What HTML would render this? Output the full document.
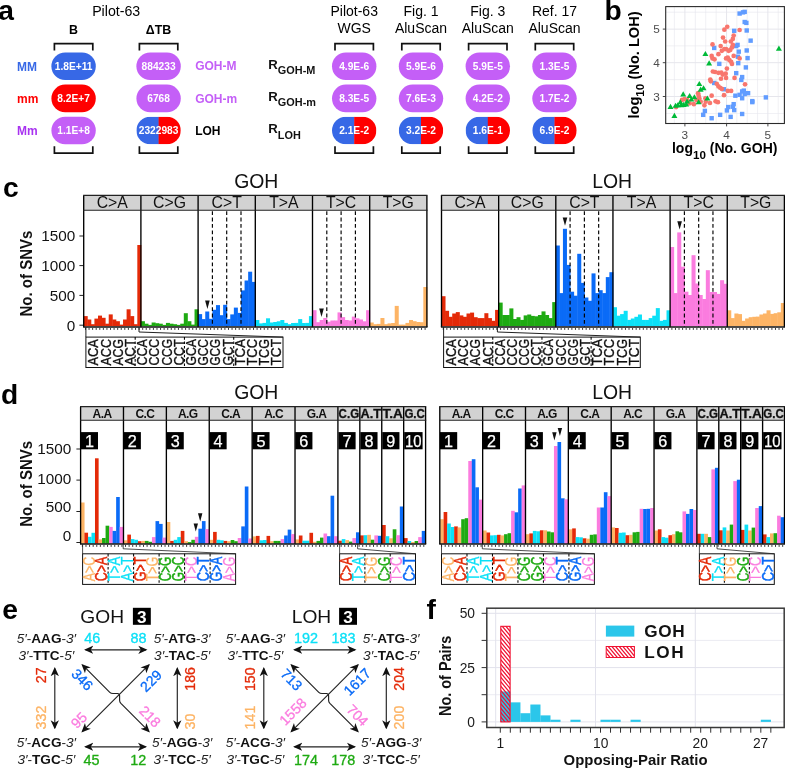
<!DOCTYPE html>
<html><head><meta charset="utf-8"><title>Figure</title>
<style>
html,body{margin:0;padding:0;background:#fff;}
body{width:785px;height:768px;overflow:hidden;}
svg{display:block;font-family:'Liberation Sans', sans-serif;}
</style></head><body>
<svg width="785" height="768" viewBox="0 0 785 768">
<rect width="785" height="768" fill="#fff"/>
<defs>
<marker id="ah" viewBox="0 0 10 10" refX="8.4" refY="5" markerWidth="9.4" markerHeight="9.4" markerUnits="userSpaceOnUse" orient="auto-start-reverse"><path d="M0.2,0.6 L10,5 L0.2,9.4 L2.9,5Z" fill="#111"/></marker>
<pattern id="hatch" width="2.3" height="2.3" patternUnits="userSpaceOnUse" patternTransform="rotate(42)"><rect width="2.3" height="1.05" fill="#EE1133"/></pattern>
</defs>
<text x="-1.80" y="19.70" font-size="28.2" font-weight="bold" fill="#000" text-anchor="start" >a</text>
<text x="116.20" y="16.40" font-size="14.2" font-weight="normal" fill="#000" text-anchor="middle" >Pilot-63</text>
<text x="73.60" y="34.40" font-size="12.4" font-weight="bold" fill="#000" text-anchor="middle" >B</text>
<text x="158.50" y="34.40" font-size="12.4" font-weight="bold" fill="#000" text-anchor="middle" >ΔTB</text>
<text x="17.00" y="70.80" font-size="12.0" font-weight="bold" fill="#3768E6" text-anchor="start" >MM</text>
<text x="17.00" y="102.90" font-size="12.0" font-weight="bold" fill="#FF0000" text-anchor="start" >mm</text>
<text x="17.00" y="135.00" font-size="12.0" font-weight="bold" fill="#A833F0" text-anchor="start" >Mm</text>
<path d="M54.40,50.6 V43.6 H92.80 V50.6" fill="none" stroke="#111" stroke-width="1.7"/>
<path d="M54.40,146.2 V153.2 H92.80 V146.2" fill="none" stroke="#111" stroke-width="1.7"/>
<path d="M139.40,50.6 V43.6 H177.80 V50.6" fill="none" stroke="#111" stroke-width="1.7"/>
<path d="M139.40,146.2 V153.2 H177.80 V146.2" fill="none" stroke="#111" stroke-width="1.7"/>
<rect x="51.40" y="52.50" width="44.4" height="27.6" rx="13.8" fill="#3768E6"/>
<text x="73.60" y="69.90" font-size="10.2" font-weight="bold" fill="#fff" text-anchor="middle" >1.8E+11</text>
<rect x="51.40" y="84.60" width="44.4" height="27.6" rx="13.8" fill="#FF0000"/>
<text x="73.60" y="102.00" font-size="10.2" font-weight="bold" fill="#fff" text-anchor="middle" >8.2E+7</text>
<rect x="51.40" y="116.70" width="44.4" height="27.6" rx="13.8" fill="#C45FF7"/>
<text x="73.60" y="134.10" font-size="10.2" font-weight="bold" fill="#fff" text-anchor="middle" >1.1E+8</text>
<rect x="136.40" y="52.50" width="44.4" height="27.6" rx="13.8" fill="#C45FF7"/>
<text x="158.60" y="69.90" font-size="10.2" font-weight="bold" fill="#fff" text-anchor="middle" >884233</text>
<rect x="136.40" y="84.60" width="44.4" height="27.6" rx="13.8" fill="#C45FF7"/>
<text x="158.60" y="102.00" font-size="10.2" font-weight="bold" fill="#fff" text-anchor="middle" >6768</text>
<clipPath id="cp158_130"><rect x="136.40" y="116.70" width="44.4" height="27.6" rx="13.8"/></clipPath>
<g clip-path="url(#cp158_130)"><rect x="136.40" y="116.70" width="22.50" height="27.6" fill="#3768E6"/><rect x="158.60" y="116.70" width="22.20" height="27.6" fill="#FF0000"/></g>
<text x="158.60" y="134.10" font-size="10.2" font-weight="bold" fill="#fff" text-anchor="middle" >2322983</text>
<text x="195.20" y="70.40" font-size="12.0" font-weight="bold" fill="#C45FF7" text-anchor="start" >GOH-M</text>
<text x="195.20" y="102.50" font-size="12.0" font-weight="bold" fill="#C45FF7" text-anchor="start" >GOH-m</text>
<text x="195.20" y="134.60" font-size="12.0" font-weight="bold" fill="#000" text-anchor="start" >LOH</text>
<text x="268.3" y="68.50" font-size="13.2" font-weight="bold" fill="#111">R<tspan font-size="10.9" dy="5.8">GOH-M</tspan></text>
<text x="268.3" y="100.60" font-size="13.2" font-weight="bold" fill="#111">R<tspan font-size="10.9" dy="5.8">GOH-m</tspan></text>
<text x="268.3" y="132.70" font-size="13.2" font-weight="bold" fill="#111">R<tspan font-size="10.9" dy="5.8">LOH</tspan></text>
<text x="354.20" y="16.00" font-size="14.0" font-weight="normal" fill="#000" text-anchor="middle" >Pilot-63</text>
<text x="354.20" y="33.20" font-size="14.0" font-weight="normal" fill="#000" text-anchor="middle" >WGS</text>
<path d="M335.00,50.6 V43.6 H373.40 V50.6" fill="none" stroke="#111" stroke-width="1.7"/>
<path d="M335.00,146.2 V153.2 H373.40 V146.2" fill="none" stroke="#111" stroke-width="1.7"/>
<rect x="332.00" y="52.50" width="44.4" height="27.6" rx="13.8" fill="#C45FF7"/>
<text x="354.20" y="69.90" font-size="10.2" font-weight="bold" fill="#fff" text-anchor="middle" >4.9E-6</text>
<rect x="332.00" y="84.60" width="44.4" height="27.6" rx="13.8" fill="#C45FF7"/>
<text x="354.20" y="102.00" font-size="10.2" font-weight="bold" fill="#fff" text-anchor="middle" >8.3E-5</text>
<clipPath id="cp354_130"><rect x="332.00" y="116.70" width="44.4" height="27.6" rx="13.8"/></clipPath>
<g clip-path="url(#cp354_130)"><rect x="332.00" y="116.70" width="22.50" height="27.6" fill="#3768E6"/><rect x="354.20" y="116.70" width="22.20" height="27.6" fill="#FF0000"/></g>
<text x="354.20" y="134.10" font-size="10.2" font-weight="bold" fill="#fff" text-anchor="middle" >2.1E-2</text>
<text x="421.00" y="16.00" font-size="14.0" font-weight="normal" fill="#000" text-anchor="middle" >Fig. 1</text>
<text x="421.00" y="33.20" font-size="14.0" font-weight="normal" fill="#000" text-anchor="middle" >AluScan</text>
<path d="M401.80,50.6 V43.6 H440.20 V50.6" fill="none" stroke="#111" stroke-width="1.7"/>
<path d="M401.80,146.2 V153.2 H440.20 V146.2" fill="none" stroke="#111" stroke-width="1.7"/>
<rect x="398.80" y="52.50" width="44.4" height="27.6" rx="13.8" fill="#C45FF7"/>
<text x="421.00" y="69.90" font-size="10.2" font-weight="bold" fill="#fff" text-anchor="middle" >5.9E-6</text>
<rect x="398.80" y="84.60" width="44.4" height="27.6" rx="13.8" fill="#C45FF7"/>
<text x="421.00" y="102.00" font-size="10.2" font-weight="bold" fill="#fff" text-anchor="middle" >7.6E-3</text>
<clipPath id="cp421_130"><rect x="398.80" y="116.70" width="44.4" height="27.6" rx="13.8"/></clipPath>
<g clip-path="url(#cp421_130)"><rect x="398.80" y="116.70" width="22.50" height="27.6" fill="#3768E6"/><rect x="421.00" y="116.70" width="22.20" height="27.6" fill="#FF0000"/></g>
<text x="421.00" y="134.10" font-size="10.2" font-weight="bold" fill="#fff" text-anchor="middle" >3.2E-2</text>
<text x="487.80" y="16.00" font-size="14.0" font-weight="normal" fill="#000" text-anchor="middle" >Fig. 3</text>
<text x="487.80" y="33.20" font-size="14.0" font-weight="normal" fill="#000" text-anchor="middle" >AluScan</text>
<path d="M468.60,50.6 V43.6 H507.00 V50.6" fill="none" stroke="#111" stroke-width="1.7"/>
<path d="M468.60,146.2 V153.2 H507.00 V146.2" fill="none" stroke="#111" stroke-width="1.7"/>
<rect x="465.60" y="52.50" width="44.4" height="27.6" rx="13.8" fill="#C45FF7"/>
<text x="487.80" y="69.90" font-size="10.2" font-weight="bold" fill="#fff" text-anchor="middle" >5.9E-5</text>
<rect x="465.60" y="84.60" width="44.4" height="27.6" rx="13.8" fill="#C45FF7"/>
<text x="487.80" y="102.00" font-size="10.2" font-weight="bold" fill="#fff" text-anchor="middle" >4.2E-2</text>
<clipPath id="cp487_130"><rect x="465.60" y="116.70" width="44.4" height="27.6" rx="13.8"/></clipPath>
<g clip-path="url(#cp487_130)"><rect x="465.60" y="116.70" width="22.50" height="27.6" fill="#3768E6"/><rect x="487.80" y="116.70" width="22.20" height="27.6" fill="#FF0000"/></g>
<text x="487.80" y="134.10" font-size="10.2" font-weight="bold" fill="#fff" text-anchor="middle" >1.6E-1</text>
<text x="554.50" y="16.00" font-size="14.0" font-weight="normal" fill="#000" text-anchor="middle" >Ref. 17</text>
<text x="554.50" y="33.20" font-size="14.0" font-weight="normal" fill="#000" text-anchor="middle" >AluScan</text>
<path d="M535.30,50.6 V43.6 H573.70 V50.6" fill="none" stroke="#111" stroke-width="1.7"/>
<path d="M535.30,146.2 V153.2 H573.70 V146.2" fill="none" stroke="#111" stroke-width="1.7"/>
<rect x="532.30" y="52.50" width="44.4" height="27.6" rx="13.8" fill="#C45FF7"/>
<text x="554.50" y="69.90" font-size="10.2" font-weight="bold" fill="#fff" text-anchor="middle" >1.3E-5</text>
<rect x="532.30" y="84.60" width="44.4" height="27.6" rx="13.8" fill="#C45FF7"/>
<text x="554.50" y="102.00" font-size="10.2" font-weight="bold" fill="#fff" text-anchor="middle" >1.7E-2</text>
<clipPath id="cp554_130"><rect x="532.30" y="116.70" width="44.4" height="27.6" rx="13.8"/></clipPath>
<g clip-path="url(#cp554_130)"><rect x="532.30" y="116.70" width="22.50" height="27.6" fill="#3768E6"/><rect x="554.50" y="116.70" width="22.20" height="27.6" fill="#FF0000"/></g>
<text x="554.50" y="134.10" font-size="10.2" font-weight="bold" fill="#fff" text-anchor="middle" >6.9E-2</text>
<text x="604.40" y="20.00" font-size="28.2" font-weight="bold" fill="#000" text-anchor="start" >b</text>
<rect x="665.7" y="6.6" width="118.70" height="116.90" fill="#fff"/>
<line x1="674.40" x2="674.40" y1="6.6" y2="123.5" stroke="#e6e6ec" stroke-width="0.6"/>
<line x1="684.90" x2="684.90" y1="6.6" y2="123.5" stroke="#e6e6ec" stroke-width="1.0"/>
<line x1="695.32" x2="695.32" y1="6.6" y2="123.5" stroke="#e6e6ec" stroke-width="0.6"/>
<line x1="705.73" x2="705.73" y1="6.6" y2="123.5" stroke="#e6e6ec" stroke-width="0.6"/>
<line x1="716.15" x2="716.15" y1="6.6" y2="123.5" stroke="#e6e6ec" stroke-width="0.6"/>
<line x1="726.57" x2="726.57" y1="6.6" y2="123.5" stroke="#e6e6ec" stroke-width="1.0"/>
<line x1="736.90" x2="736.90" y1="6.6" y2="123.5" stroke="#e6e6ec" stroke-width="0.6"/>
<line x1="747.23" x2="747.23" y1="6.6" y2="123.5" stroke="#e6e6ec" stroke-width="0.6"/>
<line x1="757.56" x2="757.56" y1="6.6" y2="123.5" stroke="#e6e6ec" stroke-width="0.6"/>
<line x1="767.89" x2="767.89" y1="6.6" y2="123.5" stroke="#e6e6ec" stroke-width="1.0"/>
<line x1="778.22" x2="778.22" y1="6.6" y2="123.5" stroke="#e6e6ec" stroke-width="0.6"/>
<line y1="12.20" y2="12.20" x1="665.7" x2="784.4" stroke="#e6e6ec" stroke-width="0.6"/>
<line y1="29.13" y2="29.13" x1="665.7" x2="784.4" stroke="#e6e6ec" stroke-width="1.0"/>
<line y1="45.90" y2="45.90" x1="665.7" x2="784.4" stroke="#e6e6ec" stroke-width="0.6"/>
<line y1="62.67" y2="62.67" x1="665.7" x2="784.4" stroke="#e6e6ec" stroke-width="1.0"/>
<line y1="79.61" y2="79.61" x1="665.7" x2="784.4" stroke="#e6e6ec" stroke-width="0.6"/>
<line y1="96.54" y2="96.54" x1="665.7" x2="784.4" stroke="#e6e6ec" stroke-width="1.0"/>
<line y1="113.48" y2="113.48" x1="665.7" x2="784.4" stroke="#e6e6ec" stroke-width="0.6"/>
<rect x="737.41" y="11.35" width="4.4" height="4.4" fill="#619CFF"/>
<rect x="740.79" y="10.16" width="4.4" height="4.4" fill="#619CFF"/>
<rect x="742.49" y="9.66" width="4.4" height="4.4" fill="#619CFF"/>
<rect x="742.49" y="19.82" width="4.4" height="4.4" fill="#619CFF"/>
<rect x="744.18" y="20.67" width="4.4" height="4.4" fill="#619CFF"/>
<rect x="731.99" y="28.63" width="4.4" height="4.4" fill="#619CFF"/>
<rect x="744.52" y="28.29" width="4.4" height="4.4" fill="#619CFF"/>
<rect x="748.42" y="38.45" width="4.4" height="4.4" fill="#619CFF"/>
<rect x="712.00" y="45.73" width="4.4" height="4.4" fill="#619CFF"/>
<rect x="734.02" y="43.87" width="4.4" height="4.4" fill="#619CFF"/>
<rect x="735.37" y="42.68" width="4.4" height="4.4" fill="#619CFF"/>
<rect x="736.56" y="49.46" width="4.4" height="4.4" fill="#619CFF"/>
<rect x="744.52" y="48.27" width="4.4" height="4.4" fill="#619CFF"/>
<rect x="735.71" y="54.54" width="4.4" height="4.4" fill="#619CFF"/>
<rect x="745.37" y="55.90" width="4.4" height="4.4" fill="#619CFF"/>
<rect x="717.08" y="61.66" width="4.4" height="4.4" fill="#619CFF"/>
<rect x="736.05" y="60.98" width="4.4" height="4.4" fill="#619CFF"/>
<rect x="743.67" y="65.21" width="4.4" height="4.4" fill="#619CFF"/>
<rect x="734.02" y="70.97" width="4.4" height="4.4" fill="#619CFF"/>
<rect x="739.95" y="74.87" width="4.4" height="4.4" fill="#619CFF"/>
<rect x="739.10" y="77.75" width="4.4" height="4.4" fill="#619CFF"/>
<rect x="712.00" y="80.79" width="4.4" height="4.4" fill="#619CFF"/>
<rect x="721.66" y="87.06" width="4.4" height="4.4" fill="#619CFF"/>
<rect x="733.17" y="93.50" width="4.4" height="4.4" fill="#619CFF"/>
<rect x="737.41" y="92.65" width="4.4" height="4.4" fill="#619CFF"/>
<rect x="739.95" y="89.26" width="4.4" height="4.4" fill="#619CFF"/>
<rect x="741.64" y="88.42" width="4.4" height="4.4" fill="#619CFF"/>
<rect x="742.49" y="91.80" width="4.4" height="4.4" fill="#619CFF"/>
<rect x="739.95" y="96.04" width="4.4" height="4.4" fill="#619CFF"/>
<rect x="745.88" y="90.96" width="4.4" height="4.4" fill="#619CFF"/>
<rect x="750.11" y="98.92" width="4.4" height="4.4" fill="#619CFF"/>
<rect x="750.11" y="99.93" width="4.4" height="4.4" fill="#619CFF"/>
<rect x="763.66" y="95.19" width="4.4" height="4.4" fill="#619CFF"/>
<rect x="702.68" y="108.74" width="4.4" height="4.4" fill="#619CFF"/>
<rect x="700.99" y="112.64" width="4.4" height="4.4" fill="#619CFF"/>
<rect x="709.46" y="116.02" width="4.4" height="4.4" fill="#619CFF"/>
<rect x="717.93" y="112.64" width="4.4" height="4.4" fill="#619CFF"/>
<rect x="724.70" y="108.23" width="4.4" height="4.4" fill="#619CFF"/>
<rect x="726.06" y="104.85" width="4.4" height="4.4" fill="#619CFF"/>
<rect x="728.43" y="114.67" width="4.4" height="4.4" fill="#619CFF"/>
<rect x="730.63" y="104.51" width="4.4" height="4.4" fill="#619CFF"/>
<rect x="731.48" y="101.97" width="4.4" height="4.4" fill="#619CFF"/>
<rect x="731.99" y="107.89" width="4.4" height="4.4" fill="#619CFF"/>
<rect x="739.95" y="111.79" width="4.4" height="4.4" fill="#619CFF"/>
<circle cx="676.09" cy="107.05" r="2.35" fill="#F8766D"/>
<circle cx="682.02" cy="99.93" r="2.35" fill="#F8766D"/>
<circle cx="684.56" cy="99.09" r="2.35" fill="#F8766D"/>
<circle cx="687.10" cy="99.93" r="2.35" fill="#F8766D"/>
<circle cx="689.64" cy="103.32" r="2.35" fill="#F8766D"/>
<circle cx="693.88" cy="104.17" r="2.35" fill="#F8766D"/>
<circle cx="696.42" cy="99.93" r="2.35" fill="#F8766D"/>
<circle cx="698.11" cy="93.16" r="2.35" fill="#F8766D"/>
<circle cx="698.62" cy="95.70" r="2.35" fill="#F8766D"/>
<circle cx="699.30" cy="98.24" r="2.35" fill="#F8766D"/>
<circle cx="700.65" cy="101.63" r="2.35" fill="#F8766D"/>
<circle cx="704.38" cy="105.35" r="2.35" fill="#F8766D"/>
<circle cx="705.39" cy="98.24" r="2.35" fill="#F8766D"/>
<circle cx="705.73" cy="101.63" r="2.35" fill="#F8766D"/>
<circle cx="709.97" cy="102.98" r="2.35" fill="#F8766D"/>
<circle cx="711.66" cy="95.70" r="2.35" fill="#F8766D"/>
<circle cx="715.56" cy="101.29" r="2.35" fill="#F8766D"/>
<circle cx="717.93" cy="102.13" r="2.35" fill="#F8766D"/>
<circle cx="724.02" cy="95.19" r="2.35" fill="#F8766D"/>
<circle cx="710.30" cy="79.61" r="2.35" fill="#F8766D"/>
<circle cx="710.81" cy="81.30" r="2.35" fill="#F8766D"/>
<circle cx="716.74" cy="83.84" r="2.35" fill="#F8766D"/>
<circle cx="718.43" cy="86.38" r="2.35" fill="#F8766D"/>
<circle cx="720.13" cy="87.74" r="2.35" fill="#F8766D"/>
<circle cx="721.82" cy="88.92" r="2.35" fill="#F8766D"/>
<circle cx="727.75" cy="90.96" r="2.35" fill="#F8766D"/>
<circle cx="731.14" cy="90.96" r="2.35" fill="#F8766D"/>
<circle cx="712.85" cy="71.48" r="2.35" fill="#F8766D"/>
<circle cx="715.05" cy="71.99" r="2.35" fill="#F8766D"/>
<circle cx="718.43" cy="72.83" r="2.35" fill="#F8766D"/>
<circle cx="721.31" cy="72.49" r="2.35" fill="#F8766D"/>
<circle cx="722.67" cy="74.53" r="2.35" fill="#F8766D"/>
<circle cx="725.72" cy="73.68" r="2.35" fill="#F8766D"/>
<circle cx="726.90" cy="68.60" r="2.35" fill="#F8766D"/>
<circle cx="720.98" cy="78.76" r="2.35" fill="#F8766D"/>
<circle cx="726.06" cy="77.91" r="2.35" fill="#F8766D"/>
<circle cx="734.53" cy="77.91" r="2.35" fill="#F8766D"/>
<circle cx="745.03" cy="84.35" r="2.35" fill="#F8766D"/>
<circle cx="712.51" cy="44.38" r="2.35" fill="#F8766D"/>
<circle cx="711.66" cy="55.89" r="2.35" fill="#F8766D"/>
<circle cx="712.51" cy="58.43" r="2.35" fill="#F8766D"/>
<circle cx="714.54" cy="59.28" r="2.35" fill="#F8766D"/>
<circle cx="718.43" cy="54.20" r="2.35" fill="#F8766D"/>
<circle cx="720.64" cy="46.07" r="2.35" fill="#F8766D"/>
<circle cx="721.82" cy="50.81" r="2.35" fill="#F8766D"/>
<circle cx="724.36" cy="49.12" r="2.35" fill="#F8766D"/>
<circle cx="726.06" cy="49.12" r="2.35" fill="#F8766D"/>
<circle cx="728.60" cy="50.81" r="2.35" fill="#F8766D"/>
<circle cx="730.29" cy="49.97" r="2.35" fill="#F8766D"/>
<circle cx="731.99" cy="47.43" r="2.35" fill="#F8766D"/>
<circle cx="732.83" cy="44.88" r="2.35" fill="#F8766D"/>
<circle cx="726.06" cy="58.43" r="2.35" fill="#F8766D"/>
<circle cx="727.75" cy="57.59" r="2.35" fill="#F8766D"/>
<circle cx="729.44" cy="60.13" r="2.35" fill="#F8766D"/>
<circle cx="731.14" cy="61.82" r="2.35" fill="#F8766D"/>
<circle cx="731.99" cy="64.02" r="2.35" fill="#F8766D"/>
<circle cx="733.68" cy="55.89" r="2.35" fill="#F8766D"/>
<circle cx="739.61" cy="58.43" r="2.35" fill="#F8766D"/>
<circle cx="723.01" cy="37.60" r="2.35" fill="#F8766D"/>
<circle cx="725.21" cy="41.50" r="2.35" fill="#F8766D"/>
<circle cx="730.80" cy="41.50" r="2.35" fill="#F8766D"/>
<circle cx="732.83" cy="38.96" r="2.35" fill="#F8766D"/>
<circle cx="733.68" cy="35.57" r="2.35" fill="#F8766D"/>
<circle cx="724.36" cy="29.64" r="2.35" fill="#F8766D"/>
<circle cx="727.24" cy="26.76" r="2.35" fill="#F8766D"/>
<circle cx="739.61" cy="29.98" r="2.35" fill="#F8766D"/>
<path d="M670.50,103.85 L673.50,108.95 L667.50,108.95Z" fill="#00BA38"/>
<path d="M674.40,112.82 L677.40,117.92 L671.40,117.92Z" fill="#00BA38"/>
<path d="M675.58,102.66 L678.58,107.76 L672.58,107.76Z" fill="#00BA38"/>
<path d="M677.78,102.15 L680.78,107.25 L674.78,107.25Z" fill="#00BA38"/>
<path d="M680.33,99.27 L683.33,104.37 L677.33,104.37Z" fill="#00BA38"/>
<path d="M681.17,102.15 L684.17,107.25 L678.17,107.25Z" fill="#00BA38"/>
<path d="M683.20,91.31 L686.20,96.41 L680.20,96.41Z" fill="#00BA38"/>
<path d="M683.71,101.81 L686.71,106.91 L680.71,106.91Z" fill="#00BA38"/>
<path d="M686.25,101.47 L689.25,106.57 L683.25,106.57Z" fill="#00BA38"/>
<path d="M687.10,98.43 L690.10,103.53 L684.10,103.53Z" fill="#00BA38"/>
<path d="M689.64,93.01 L692.64,98.11 L686.64,98.11Z" fill="#00BA38"/>
<path d="M691.33,96.39 L694.33,101.49 L688.33,101.49Z" fill="#00BA38"/>
<path d="M694.38,94.19 L697.38,99.29 L691.38,99.29Z" fill="#00BA38"/>
<path d="M698.62,99.27 L701.62,104.37 L695.62,104.37Z" fill="#00BA38"/>
<path d="M699.30,80.98 L702.30,86.08 L696.30,86.08Z" fill="#00BA38"/>
<path d="M700.65,86.57 L703.65,91.67 L697.65,91.67Z" fill="#00BA38"/>
<path d="M703.53,85.21 L706.53,90.31 L700.53,90.31Z" fill="#00BA38"/>
<path d="M705.39,51.00 L708.39,56.10 L702.39,56.10Z" fill="#00BA38"/>
<path d="M707.43,95.38 L710.43,100.48 L704.43,100.48Z" fill="#00BA38"/>
<path d="M709.12,60.32 L712.12,65.42 L706.12,65.42Z" fill="#00BA38"/>
<path d="M778.90,45.58 L781.90,50.68 L775.90,50.68Z" fill="#00BA38"/>
<rect x="665.7" y="6.6" width="118.70" height="116.90" fill="none" stroke="#2a2a2a" stroke-width="1.1"/>
<line x1="662.8" x2="665.7" y1="29.1" y2="29.1" stroke="#333" stroke-width="0.9"/>
<text x="659.80" y="33.30" font-size="11.8" font-weight="normal" fill="#4d4d4d" text-anchor="end" >5</text>
<line x1="662.8" x2="665.7" y1="62.7" y2="62.7" stroke="#333" stroke-width="0.9"/>
<text x="659.80" y="66.90" font-size="11.8" font-weight="normal" fill="#4d4d4d" text-anchor="end" >4</text>
<line x1="662.8" x2="665.7" y1="96.5" y2="96.5" stroke="#333" stroke-width="0.9"/>
<text x="659.80" y="100.70" font-size="11.8" font-weight="normal" fill="#4d4d4d" text-anchor="end" >3</text>
<line x1="684.9" x2="684.9" y1="123.5" y2="126.4" stroke="#333" stroke-width="0.9"/>
<text x="684.90" y="139.40" font-size="11.8" font-weight="normal" fill="#4d4d4d" text-anchor="middle" >3</text>
<line x1="726.6" x2="726.6" y1="123.5" y2="126.4" stroke="#333" stroke-width="0.9"/>
<text x="726.60" y="139.40" font-size="11.8" font-weight="normal" fill="#4d4d4d" text-anchor="middle" >4</text>
<line x1="767.9" x2="767.9" y1="123.5" y2="126.4" stroke="#333" stroke-width="0.9"/>
<text x="767.90" y="139.40" font-size="11.8" font-weight="normal" fill="#4d4d4d" text-anchor="middle" >5</text>
<text x="724.7" y="153.3" font-size="14" font-weight="bold" text-anchor="middle">log<tspan font-size="11.6" dy="5.2">10</tspan><tspan dy="-5.2"> (No. GOH)</tspan></text>
<text transform="translate(638.8,65.0) rotate(-90)" font-size="14.6" font-weight="bold" text-anchor="middle">log<tspan font-size="11.8" dy="5.2">10</tspan><tspan dy="-5.2"> (No. LOH)</tspan></text>
<text x="2.90" y="196.70" font-size="28.2" font-weight="bold" fill="#000" text-anchor="start" >c</text>
<text x="256.30" y="188.20" font-size="19.4" font-weight="normal" fill="#111" text-anchor="middle" >GOH</text>
<text x="612.20" y="188.20" font-size="19.4" font-weight="normal" fill="#111" text-anchor="middle" >LOH</text>
<line x1="79.4" x2="83.7" y1="236.0" y2="236.0" stroke="#222" stroke-width="1"/>
<text x="75.20" y="241.30" font-size="15.3" font-weight="normal" fill="#111" text-anchor="end" >1500</text>
<line x1="79.4" x2="83.7" y1="265.6" y2="265.6" stroke="#222" stroke-width="1"/>
<text x="75.20" y="270.90" font-size="15.3" font-weight="normal" fill="#111" text-anchor="end" >1000</text>
<line x1="79.4" x2="83.7" y1="295.4" y2="295.4" stroke="#222" stroke-width="1"/>
<text x="75.20" y="300.70" font-size="15.3" font-weight="normal" fill="#111" text-anchor="end" >500</text>
<line x1="79.4" x2="83.7" y1="325.2" y2="325.2" stroke="#222" stroke-width="1"/>
<text x="75.20" y="330.50" font-size="15.3" font-weight="normal" fill="#111" text-anchor="end" >0</text>
<text transform="translate(32.4,316.6) rotate(-90)" font-size="16.8" font-weight="bold" textLength="86" lengthAdjust="spacingAndGlyphs" fill="#111">No. of SNVs</text>
<rect x="83.70" y="195.4" width="343.20" height="14.80" fill="#d2d2d2"/>
<rect x="83.70" y="316.10" width="4.02" height="10.10" fill="#E42A08"/>
<rect x="87.28" y="319.50" width="4.02" height="6.70" fill="#E42A08"/>
<rect x="90.85" y="324.20" width="4.02" height="2.00" fill="#E42A08"/>
<rect x="94.42" y="318.60" width="4.02" height="7.60" fill="#E42A08"/>
<rect x="98.00" y="315.60" width="4.02" height="10.60" fill="#E42A08"/>
<rect x="101.58" y="317.80" width="4.02" height="8.40" fill="#E42A08"/>
<rect x="105.15" y="323.70" width="4.02" height="2.50" fill="#E42A08"/>
<rect x="108.72" y="314.40" width="4.02" height="11.80" fill="#E42A08"/>
<rect x="112.30" y="319.50" width="4.02" height="6.70" fill="#E42A08"/>
<rect x="115.88" y="321.20" width="4.02" height="5.00" fill="#E42A08"/>
<rect x="119.45" y="324.60" width="4.02" height="1.60" fill="#E42A08"/>
<rect x="123.03" y="319.50" width="4.02" height="6.70" fill="#E42A08"/>
<rect x="126.60" y="309.30" width="4.02" height="16.90" fill="#E42A08"/>
<rect x="130.18" y="316.10" width="4.02" height="10.10" fill="#E42A08"/>
<rect x="133.75" y="324.20" width="4.02" height="2.00" fill="#E42A08"/>
<rect x="137.32" y="245.00" width="4.02" height="81.20" fill="#E42A08"/>
<text x="112.30" y="208.20" font-size="15.8" font-weight="normal" fill="#111" text-anchor="middle" >C&gt;A</text>
<rect x="140.90" y="321.20" width="4.02" height="5.00" fill="#1EAA12"/>
<rect x="144.47" y="323.70" width="4.02" height="2.50" fill="#1EAA12"/>
<rect x="148.05" y="324.90" width="4.02" height="1.30" fill="#1EAA12"/>
<rect x="151.62" y="322.50" width="4.02" height="3.70" fill="#1EAA12"/>
<rect x="155.20" y="323.20" width="4.02" height="3.00" fill="#1EAA12"/>
<rect x="158.78" y="323.70" width="4.02" height="2.50" fill="#1EAA12"/>
<rect x="162.35" y="324.90" width="4.02" height="1.30" fill="#1EAA12"/>
<rect x="165.93" y="322.90" width="4.02" height="3.30" fill="#1EAA12"/>
<rect x="169.50" y="323.70" width="4.02" height="2.50" fill="#1EAA12"/>
<rect x="173.07" y="324.20" width="4.02" height="2.00" fill="#1EAA12"/>
<rect x="176.65" y="324.90" width="4.02" height="1.30" fill="#1EAA12"/>
<rect x="180.22" y="323.70" width="4.02" height="2.50" fill="#1EAA12"/>
<rect x="183.80" y="313.20" width="4.02" height="13.00" fill="#1EAA12"/>
<rect x="187.38" y="321.20" width="4.02" height="5.00" fill="#1EAA12"/>
<rect x="190.95" y="324.60" width="4.02" height="1.60" fill="#1EAA12"/>
<rect x="194.53" y="309.30" width="4.02" height="16.90" fill="#1EAA12"/>
<text x="169.50" y="208.20" font-size="15.8" font-weight="normal" fill="#111" text-anchor="middle" >C&gt;G</text>
<rect x="198.10" y="314.10" width="4.02" height="12.10" fill="#0A6BF7"/>
<rect x="201.67" y="319.10" width="4.02" height="7.10" fill="#0A6BF7"/>
<rect x="205.25" y="311.50" width="4.02" height="14.70" fill="#0A6BF7"/>
<rect x="208.82" y="318.80" width="4.02" height="7.40" fill="#0A6BF7"/>
<rect x="212.40" y="309.80" width="4.02" height="16.40" fill="#0A6BF7"/>
<rect x="215.97" y="305.10" width="4.02" height="21.10" fill="#0A6BF7"/>
<rect x="219.55" y="315.20" width="4.02" height="11.00" fill="#0A6BF7"/>
<rect x="223.12" y="304.80" width="4.02" height="21.40" fill="#0A6BF7"/>
<rect x="226.70" y="319.10" width="4.02" height="7.10" fill="#0A6BF7"/>
<rect x="230.27" y="314.40" width="4.02" height="11.80" fill="#0A6BF7"/>
<rect x="233.85" y="307.60" width="4.02" height="18.60" fill="#0A6BF7"/>
<rect x="237.42" y="312.90" width="4.02" height="13.30" fill="#0A6BF7"/>
<rect x="241.00" y="290.40" width="4.02" height="35.80" fill="#0A6BF7"/>
<rect x="244.57" y="280.50" width="4.02" height="45.70" fill="#0A6BF7"/>
<rect x="248.15" y="271.70" width="4.02" height="54.50" fill="#0A6BF7"/>
<rect x="251.72" y="281.90" width="4.02" height="44.30" fill="#0A6BF7"/>
<line x1="212.40" x2="212.40" y1="211.20" y2="327.0" stroke="#000" stroke-width="1.15" stroke-dasharray="3.8,2.6"/>
<line x1="226.70" x2="226.70" y1="211.20" y2="327.0" stroke="#000" stroke-width="1.15" stroke-dasharray="3.8,2.6"/>
<line x1="241.00" x2="241.00" y1="211.20" y2="327.0" stroke="#000" stroke-width="1.15" stroke-dasharray="3.8,2.6"/>
<text x="226.70" y="208.20" font-size="15.8" font-weight="normal" fill="#111" text-anchor="middle" >C&gt;T</text>
<rect x="255.30" y="320.00" width="4.02" height="6.20" fill="#0CE0F7"/>
<rect x="258.88" y="323.40" width="4.02" height="2.80" fill="#0CE0F7"/>
<rect x="262.45" y="322.90" width="4.02" height="3.30" fill="#0CE0F7"/>
<rect x="266.03" y="318.30" width="4.02" height="7.90" fill="#0CE0F7"/>
<rect x="269.60" y="322.50" width="4.02" height="3.70" fill="#0CE0F7"/>
<rect x="273.18" y="322.00" width="4.02" height="4.20" fill="#0CE0F7"/>
<rect x="276.75" y="321.30" width="4.02" height="4.90" fill="#0CE0F7"/>
<rect x="280.32" y="320.00" width="4.02" height="6.20" fill="#0CE0F7"/>
<rect x="283.90" y="322.90" width="4.02" height="3.30" fill="#0CE0F7"/>
<rect x="287.48" y="324.20" width="4.02" height="2.00" fill="#0CE0F7"/>
<rect x="291.05" y="323.00" width="4.02" height="3.20" fill="#0CE0F7"/>
<rect x="294.62" y="322.90" width="4.02" height="3.30" fill="#0CE0F7"/>
<rect x="298.20" y="319.10" width="4.02" height="7.10" fill="#0CE0F7"/>
<rect x="301.77" y="323.00" width="4.02" height="3.20" fill="#0CE0F7"/>
<rect x="305.35" y="322.90" width="4.02" height="3.30" fill="#0CE0F7"/>
<rect x="308.93" y="316.10" width="4.02" height="10.10" fill="#0CE0F7"/>
<text x="283.90" y="208.20" font-size="15.8" font-weight="normal" fill="#111" text-anchor="middle" >T&gt;A</text>
<rect x="312.50" y="310.20" width="4.02" height="16.00" fill="#FB7CDF"/>
<rect x="316.07" y="322.20" width="4.02" height="4.00" fill="#FB7CDF"/>
<rect x="319.65" y="320.00" width="4.02" height="6.20" fill="#FB7CDF"/>
<rect x="323.23" y="318.00" width="4.02" height="8.20" fill="#FB7CDF"/>
<rect x="326.80" y="321.70" width="4.02" height="4.50" fill="#FB7CDF"/>
<rect x="330.38" y="320.50" width="4.02" height="5.70" fill="#FB7CDF"/>
<rect x="333.95" y="320.50" width="4.02" height="5.70" fill="#FB7CDF"/>
<rect x="337.52" y="312.40" width="4.02" height="13.80" fill="#FB7CDF"/>
<rect x="341.10" y="317.10" width="4.02" height="9.10" fill="#FB7CDF"/>
<rect x="344.68" y="320.00" width="4.02" height="6.20" fill="#FB7CDF"/>
<rect x="348.25" y="320.50" width="4.02" height="5.70" fill="#FB7CDF"/>
<rect x="351.82" y="316.60" width="4.02" height="9.60" fill="#FB7CDF"/>
<rect x="355.40" y="318.30" width="4.02" height="7.90" fill="#FB7CDF"/>
<rect x="358.98" y="319.50" width="4.02" height="6.70" fill="#FB7CDF"/>
<rect x="362.55" y="321.30" width="4.02" height="4.90" fill="#FB7CDF"/>
<rect x="366.12" y="310.20" width="4.02" height="16.00" fill="#FB7CDF"/>
<line x1="326.80" x2="326.80" y1="211.20" y2="327.0" stroke="#000" stroke-width="1.15" stroke-dasharray="3.8,2.6"/>
<line x1="341.10" x2="341.10" y1="211.20" y2="327.0" stroke="#000" stroke-width="1.15" stroke-dasharray="3.8,2.6"/>
<line x1="355.40" x2="355.40" y1="211.20" y2="327.0" stroke="#000" stroke-width="1.15" stroke-dasharray="3.8,2.6"/>
<text x="341.10" y="208.20" font-size="15.8" font-weight="normal" fill="#111" text-anchor="middle" >T&gt;C</text>
<rect x="369.70" y="322.50" width="4.02" height="3.70" fill="#FDB465"/>
<rect x="373.27" y="324.20" width="4.02" height="2.00" fill="#FDB465"/>
<rect x="376.85" y="323.90" width="4.02" height="2.30" fill="#FDB465"/>
<rect x="380.43" y="318.00" width="4.02" height="8.20" fill="#FDB465"/>
<rect x="384.00" y="324.20" width="4.02" height="2.00" fill="#FDB465"/>
<rect x="387.57" y="323.40" width="4.02" height="2.80" fill="#FDB465"/>
<rect x="391.15" y="323.00" width="4.02" height="3.20" fill="#FDB465"/>
<rect x="394.72" y="305.90" width="4.02" height="20.30" fill="#FDB465"/>
<rect x="398.30" y="324.60" width="4.02" height="1.60" fill="#FDB465"/>
<rect x="401.88" y="324.60" width="4.02" height="1.60" fill="#FDB465"/>
<rect x="405.45" y="322.90" width="4.02" height="3.30" fill="#FDB465"/>
<rect x="409.02" y="320.00" width="4.02" height="6.20" fill="#FDB465"/>
<rect x="412.60" y="321.20" width="4.02" height="5.00" fill="#FDB465"/>
<rect x="416.17" y="322.00" width="4.02" height="4.20" fill="#FDB465"/>
<rect x="419.75" y="322.20" width="4.02" height="4.00" fill="#FDB465"/>
<rect x="423.32" y="287.00" width="4.02" height="39.20" fill="#FDB465"/>
<text x="398.30" y="208.20" font-size="15.8" font-weight="normal" fill="#111" text-anchor="middle" >T&gt;G</text>
<line x1="83.70" x2="83.70" y1="195.4" y2="327.0" stroke="#000" stroke-width="1.35"/>
<line x1="140.90" x2="140.90" y1="195.4" y2="327.0" stroke="#000" stroke-width="1.35"/>
<line x1="198.10" x2="198.10" y1="195.4" y2="327.0" stroke="#000" stroke-width="1.35"/>
<line x1="255.30" x2="255.30" y1="195.4" y2="327.0" stroke="#000" stroke-width="1.35"/>
<line x1="312.50" x2="312.50" y1="195.4" y2="327.0" stroke="#000" stroke-width="1.35"/>
<line x1="369.70" x2="369.70" y1="195.4" y2="327.0" stroke="#000" stroke-width="1.35"/>
<line x1="426.90" x2="426.90" y1="195.4" y2="327.0" stroke="#000" stroke-width="1.35"/>
<line x1="83.10" x2="427.50" y1="195.4" y2="195.4" stroke="#222" stroke-width="1.1"/>
<line x1="83.10" x2="427.50" y1="210.2" y2="210.2" stroke="#222" stroke-width="1.1"/>
<line x1="83.10" x2="427.50" y1="327.0" y2="327.0" stroke="#111" stroke-width="1.3"/>
<path d="M85.49,328.0 v1.9 M89.06,328.0 v1.9 M92.64,328.0 v1.9 M96.21,328.0 v1.9 M99.79,328.0 v1.9 M103.36,328.0 v1.9 M106.94,328.0 v1.9 M110.51,328.0 v1.9 M114.09,328.0 v1.9 M117.66,328.0 v1.9 M121.24,328.0 v1.9 M124.81,328.0 v1.9 M128.39,328.0 v1.9 M131.96,328.0 v1.9 M135.54,328.0 v1.9 M139.11,328.0 v1.9 M142.69,328.0 v1.9 M146.26,328.0 v1.9 M149.84,328.0 v1.9 M153.41,328.0 v1.9 M156.99,328.0 v1.9 M160.56,328.0 v1.9 M164.14,328.0 v1.9 M167.71,328.0 v1.9 M171.29,328.0 v1.9 M174.86,328.0 v1.9 M178.44,328.0 v1.9 M182.01,328.0 v1.9 M185.59,328.0 v1.9 M189.16,328.0 v1.9 M192.74,328.0 v1.9 M196.31,328.0 v1.9 M199.89,328.0 v1.9 M203.46,328.0 v1.9 M207.04,328.0 v1.9 M210.61,328.0 v1.9 M214.19,328.0 v1.9 M217.76,328.0 v1.9 M221.34,328.0 v1.9 M224.91,328.0 v1.9 M228.49,328.0 v1.9 M232.06,328.0 v1.9 M235.64,328.0 v1.9 M239.21,328.0 v1.9 M242.79,328.0 v1.9 M246.36,328.0 v1.9 M249.94,328.0 v1.9 M253.51,328.0 v1.9 M257.09,328.0 v1.9 M260.66,328.0 v1.9 M264.24,328.0 v1.9 M267.81,328.0 v1.9 M271.39,328.0 v1.9 M274.96,328.0 v1.9 M278.54,328.0 v1.9 M282.11,328.0 v1.9 M285.69,328.0 v1.9 M289.26,328.0 v1.9 M292.84,328.0 v1.9 M296.41,328.0 v1.9 M299.99,328.0 v1.9 M303.56,328.0 v1.9 M307.14,328.0 v1.9 M310.71,328.0 v1.9 M314.29,328.0 v1.9 M317.86,328.0 v1.9 M321.44,328.0 v1.9 M325.01,328.0 v1.9 M328.59,328.0 v1.9 M332.16,328.0 v1.9 M335.74,328.0 v1.9 M339.31,328.0 v1.9 M342.89,328.0 v1.9 M346.46,328.0 v1.9 M350.04,328.0 v1.9 M353.61,328.0 v1.9 M357.19,328.0 v1.9 M360.76,328.0 v1.9 M364.34,328.0 v1.9 M367.91,328.0 v1.9 M371.49,328.0 v1.9 M375.06,328.0 v1.9 M378.64,328.0 v1.9 M382.21,328.0 v1.9 M385.79,328.0 v1.9 M389.36,328.0 v1.9 M392.94,328.0 v1.9 M396.51,328.0 v1.9 M400.09,328.0 v1.9 M403.66,328.0 v1.9 M407.24,328.0 v1.9 M410.81,328.0 v1.9 M414.39,328.0 v1.9 M417.96,328.0 v1.9 M421.54,328.0 v1.9 M425.11,328.0 v1.9" stroke="#222" stroke-width="0.9" fill="none"/>
<path d="M205.10,300.60 L209.70,300.60 L207.40,309.00Z" fill="#111"/>
<path d="M319.20,308.60 L323.80,308.60 L321.50,317.00Z" fill="#111"/>
<rect x="85.9" y="337.1" width="197.10" height="30.40" fill="#fff" stroke="#111" stroke-width="1"/>
<path d="M85.9,327.0 V337.1 M139.0,327.0 V332.0 L283.0,337.1" fill="none" stroke="#222" stroke-width="1.0"/>
<line x1="135.18" x2="135.18" y1="337.1" y2="367.5" stroke="#000" stroke-width="1.05" stroke-dasharray="2.6,1.8"/>
<line x1="184.45" x2="184.45" y1="337.1" y2="367.5" stroke="#000" stroke-width="1.05" stroke-dasharray="2.6,1.8"/>
<line x1="233.72" x2="233.72" y1="337.1" y2="367.5" stroke="#000" stroke-width="1.05" stroke-dasharray="2.6,1.8"/>
<text transform="translate(98.45,365.60) rotate(-90)" font-size="15.2" textLength="26.6" lengthAdjust="spacingAndGlyphs" fill="#111" stroke="#111" stroke-width="0.35">ACA</text>
<text transform="translate(110.64,365.60) rotate(-90)" font-size="15.2" textLength="26.6" lengthAdjust="spacingAndGlyphs" fill="#111" stroke="#111" stroke-width="0.35">ACC</text>
<text transform="translate(122.83,365.60) rotate(-90)" font-size="15.2" textLength="26.6" lengthAdjust="spacingAndGlyphs" fill="#111" stroke="#111" stroke-width="0.35">ACG</text>
<text transform="translate(135.03,365.60) rotate(-90)" font-size="15.2" textLength="26.6" lengthAdjust="spacingAndGlyphs" fill="#111" stroke="#111" stroke-width="0.35">ACT</text>
<text transform="translate(147.22,365.60) rotate(-90)" font-size="15.2" textLength="26.6" lengthAdjust="spacingAndGlyphs" fill="#111" stroke="#111" stroke-width="0.35">CCA</text>
<text transform="translate(159.42,365.60) rotate(-90)" font-size="15.2" textLength="26.6" lengthAdjust="spacingAndGlyphs" fill="#111" stroke="#111" stroke-width="0.35">CCC</text>
<text transform="translate(171.61,365.60) rotate(-90)" font-size="15.2" textLength="26.6" lengthAdjust="spacingAndGlyphs" fill="#111" stroke="#111" stroke-width="0.35">CCG</text>
<text transform="translate(183.80,365.60) rotate(-90)" font-size="15.2" textLength="26.6" lengthAdjust="spacingAndGlyphs" fill="#111" stroke="#111" stroke-width="0.35">CCT</text>
<text transform="translate(196.00,365.60) rotate(-90)" font-size="15.2" textLength="26.6" lengthAdjust="spacingAndGlyphs" fill="#111" stroke="#111" stroke-width="0.35">GCA</text>
<text transform="translate(208.19,365.60) rotate(-90)" font-size="15.2" textLength="26.6" lengthAdjust="spacingAndGlyphs" fill="#111" stroke="#111" stroke-width="0.35">GCC</text>
<text transform="translate(220.38,365.60) rotate(-90)" font-size="15.2" textLength="26.6" lengthAdjust="spacingAndGlyphs" fill="#111" stroke="#111" stroke-width="0.35">GCG</text>
<text transform="translate(232.58,365.60) rotate(-90)" font-size="15.2" textLength="26.6" lengthAdjust="spacingAndGlyphs" fill="#111" stroke="#111" stroke-width="0.35">GCT</text>
<text transform="translate(244.77,365.60) rotate(-90)" font-size="15.2" textLength="26.6" lengthAdjust="spacingAndGlyphs" fill="#111" stroke="#111" stroke-width="0.35">TCA</text>
<text transform="translate(256.97,365.60) rotate(-90)" font-size="15.2" textLength="26.6" lengthAdjust="spacingAndGlyphs" fill="#111" stroke="#111" stroke-width="0.35">TCC</text>
<text transform="translate(269.16,365.60) rotate(-90)" font-size="15.2" textLength="26.6" lengthAdjust="spacingAndGlyphs" fill="#111" stroke="#111" stroke-width="0.35">TCG</text>
<text transform="translate(281.35,365.60) rotate(-90)" font-size="15.2" textLength="26.6" lengthAdjust="spacingAndGlyphs" fill="#111" stroke="#111" stroke-width="0.35">TCT</text>
<rect x="441.50" y="195.4" width="342.90" height="14.80" fill="#d2d2d2"/>
<rect x="441.50" y="296.20" width="4.02" height="30.00" fill="#E42A08"/>
<rect x="445.07" y="310.80" width="4.02" height="15.40" fill="#E42A08"/>
<rect x="448.64" y="316.80" width="4.02" height="9.40" fill="#E42A08"/>
<rect x="452.22" y="313.50" width="4.02" height="12.70" fill="#E42A08"/>
<rect x="455.79" y="312.10" width="4.02" height="14.10" fill="#E42A08"/>
<rect x="459.36" y="315.40" width="4.02" height="10.80" fill="#E42A08"/>
<rect x="462.93" y="316.80" width="4.02" height="9.40" fill="#E42A08"/>
<rect x="466.50" y="313.50" width="4.02" height="12.70" fill="#E42A08"/>
<rect x="470.07" y="312.60" width="4.02" height="13.60" fill="#E42A08"/>
<rect x="473.65" y="317.20" width="4.02" height="9.00" fill="#E42A08"/>
<rect x="477.22" y="318.10" width="4.02" height="8.10" fill="#E42A08"/>
<rect x="480.79" y="318.10" width="4.02" height="8.10" fill="#E42A08"/>
<rect x="484.36" y="313.20" width="4.02" height="13.00" fill="#E42A08"/>
<rect x="487.93" y="318.10" width="4.02" height="8.10" fill="#E42A08"/>
<rect x="491.51" y="320.80" width="4.02" height="5.40" fill="#E42A08"/>
<rect x="495.08" y="309.90" width="4.02" height="16.30" fill="#E42A08"/>
<text x="470.07" y="208.20" font-size="15.8" font-weight="normal" fill="#111" text-anchor="middle" >C&gt;A</text>
<rect x="498.65" y="302.60" width="4.02" height="23.60" fill="#1EAA12"/>
<rect x="502.22" y="315.00" width="4.02" height="11.20" fill="#1EAA12"/>
<rect x="505.79" y="315.00" width="4.02" height="11.20" fill="#1EAA12"/>
<rect x="509.37" y="308.40" width="4.02" height="17.80" fill="#1EAA12"/>
<rect x="512.94" y="319.00" width="4.02" height="7.20" fill="#1EAA12"/>
<rect x="516.51" y="317.20" width="4.02" height="9.00" fill="#1EAA12"/>
<rect x="520.08" y="319.90" width="4.02" height="6.30" fill="#1EAA12"/>
<rect x="523.65" y="315.40" width="4.02" height="10.80" fill="#1EAA12"/>
<rect x="527.23" y="314.50" width="4.02" height="11.70" fill="#1EAA12"/>
<rect x="530.80" y="315.90" width="4.02" height="10.30" fill="#1EAA12"/>
<rect x="534.37" y="316.30" width="4.02" height="9.90" fill="#1EAA12"/>
<rect x="537.94" y="315.00" width="4.02" height="11.20" fill="#1EAA12"/>
<rect x="541.51" y="311.40" width="4.02" height="14.80" fill="#1EAA12"/>
<rect x="545.08" y="315.00" width="4.02" height="11.20" fill="#1EAA12"/>
<rect x="548.66" y="318.10" width="4.02" height="8.10" fill="#1EAA12"/>
<rect x="552.23" y="302.10" width="4.02" height="24.10" fill="#1EAA12"/>
<text x="527.23" y="208.20" font-size="15.8" font-weight="normal" fill="#111" text-anchor="middle" >C&gt;G</text>
<rect x="555.80" y="245.50" width="4.02" height="80.70" fill="#0A6BF7"/>
<rect x="559.37" y="293.10" width="4.02" height="33.10" fill="#0A6BF7"/>
<rect x="562.94" y="228.80" width="4.02" height="97.40" fill="#0A6BF7"/>
<rect x="566.52" y="264.90" width="4.02" height="61.30" fill="#0A6BF7"/>
<rect x="570.09" y="291.70" width="4.02" height="34.50" fill="#0A6BF7"/>
<rect x="573.66" y="295.70" width="4.02" height="30.50" fill="#0A6BF7"/>
<rect x="577.23" y="253.80" width="4.02" height="72.40" fill="#0A6BF7"/>
<rect x="580.80" y="282.90" width="4.02" height="43.30" fill="#0A6BF7"/>
<rect x="584.38" y="297.50" width="4.02" height="28.70" fill="#0A6BF7"/>
<rect x="587.95" y="300.80" width="4.02" height="25.40" fill="#0A6BF7"/>
<rect x="591.52" y="273.40" width="4.02" height="52.80" fill="#0A6BF7"/>
<rect x="595.09" y="293.10" width="4.02" height="33.10" fill="#0A6BF7"/>
<rect x="598.66" y="290.20" width="4.02" height="36.00" fill="#0A6BF7"/>
<rect x="602.23" y="293.10" width="4.02" height="33.10" fill="#0A6BF7"/>
<rect x="605.81" y="277.10" width="4.02" height="49.10" fill="#0A6BF7"/>
<rect x="609.38" y="272.20" width="4.02" height="54.00" fill="#0A6BF7"/>
<line x1="570.09" x2="570.09" y1="211.20" y2="327.0" stroke="#000" stroke-width="1.15" stroke-dasharray="3.8,2.6"/>
<line x1="584.38" x2="584.38" y1="211.20" y2="327.0" stroke="#000" stroke-width="1.15" stroke-dasharray="3.8,2.6"/>
<line x1="598.66" x2="598.66" y1="211.20" y2="327.0" stroke="#000" stroke-width="1.15" stroke-dasharray="3.8,2.6"/>
<text x="584.38" y="208.20" font-size="15.8" font-weight="normal" fill="#111" text-anchor="middle" >C&gt;T</text>
<rect x="612.95" y="307.20" width="4.02" height="19.00" fill="#0CE0F7"/>
<rect x="616.52" y="315.70" width="4.02" height="10.50" fill="#0CE0F7"/>
<rect x="620.09" y="314.10" width="4.02" height="12.10" fill="#0CE0F7"/>
<rect x="623.67" y="310.80" width="4.02" height="15.40" fill="#0CE0F7"/>
<rect x="627.24" y="319.90" width="4.02" height="6.30" fill="#0CE0F7"/>
<rect x="630.81" y="318.50" width="4.02" height="7.70" fill="#0CE0F7"/>
<rect x="634.38" y="316.80" width="4.02" height="9.40" fill="#0CE0F7"/>
<rect x="637.95" y="314.50" width="4.02" height="11.70" fill="#0CE0F7"/>
<rect x="641.53" y="319.90" width="4.02" height="6.30" fill="#0CE0F7"/>
<rect x="645.10" y="319.90" width="4.02" height="6.30" fill="#0CE0F7"/>
<rect x="648.67" y="318.10" width="4.02" height="8.10" fill="#0CE0F7"/>
<rect x="652.24" y="315.70" width="4.02" height="10.50" fill="#0CE0F7"/>
<rect x="655.81" y="308.10" width="4.02" height="18.10" fill="#0CE0F7"/>
<rect x="659.38" y="320.80" width="4.02" height="5.40" fill="#0CE0F7"/>
<rect x="662.96" y="319.90" width="4.02" height="6.30" fill="#0CE0F7"/>
<rect x="666.53" y="310.30" width="4.02" height="15.90" fill="#0CE0F7"/>
<text x="641.53" y="208.20" font-size="15.8" font-weight="normal" fill="#111" text-anchor="middle" >T&gt;A</text>
<rect x="670.10" y="247.00" width="4.02" height="79.20" fill="#FB7CDF"/>
<rect x="673.67" y="293.10" width="4.02" height="33.10" fill="#FB7CDF"/>
<rect x="677.24" y="232.40" width="4.02" height="93.80" fill="#FB7CDF"/>
<rect x="680.82" y="266.70" width="4.02" height="59.50" fill="#FB7CDF"/>
<rect x="684.39" y="291.70" width="4.02" height="34.50" fill="#FB7CDF"/>
<rect x="687.96" y="295.00" width="4.02" height="31.20" fill="#FB7CDF"/>
<rect x="691.53" y="255.20" width="4.02" height="71.00" fill="#FB7CDF"/>
<rect x="695.10" y="283.50" width="4.02" height="42.70" fill="#FB7CDF"/>
<rect x="698.68" y="295.00" width="4.02" height="31.20" fill="#FB7CDF"/>
<rect x="702.25" y="299.00" width="4.02" height="27.20" fill="#FB7CDF"/>
<rect x="705.82" y="270.20" width="4.02" height="56.00" fill="#FB7CDF"/>
<rect x="709.39" y="292.00" width="4.02" height="34.20" fill="#FB7CDF"/>
<rect x="712.96" y="292.00" width="4.02" height="34.20" fill="#FB7CDF"/>
<rect x="716.53" y="293.90" width="4.02" height="32.30" fill="#FB7CDF"/>
<rect x="720.11" y="280.20" width="4.02" height="46.00" fill="#FB7CDF"/>
<rect x="723.68" y="283.80" width="4.02" height="42.40" fill="#FB7CDF"/>
<line x1="684.39" x2="684.39" y1="211.20" y2="327.0" stroke="#000" stroke-width="1.15" stroke-dasharray="3.8,2.6"/>
<line x1="698.68" x2="698.68" y1="211.20" y2="327.0" stroke="#000" stroke-width="1.15" stroke-dasharray="3.8,2.6"/>
<line x1="712.96" x2="712.96" y1="211.20" y2="327.0" stroke="#000" stroke-width="1.15" stroke-dasharray="3.8,2.6"/>
<text x="698.68" y="208.20" font-size="15.8" font-weight="normal" fill="#111" text-anchor="middle" >T&gt;C</text>
<rect x="727.25" y="310.30" width="4.02" height="15.90" fill="#FDB465"/>
<rect x="730.82" y="318.10" width="4.02" height="8.10" fill="#FDB465"/>
<rect x="734.39" y="313.50" width="4.02" height="12.70" fill="#FDB465"/>
<rect x="737.97" y="314.10" width="4.02" height="12.10" fill="#FDB465"/>
<rect x="741.54" y="320.80" width="4.02" height="5.40" fill="#FDB465"/>
<rect x="745.11" y="318.50" width="4.02" height="7.70" fill="#FDB465"/>
<rect x="748.68" y="317.20" width="4.02" height="9.00" fill="#FDB465"/>
<rect x="752.25" y="316.80" width="4.02" height="9.40" fill="#FDB465"/>
<rect x="755.83" y="316.60" width="4.02" height="9.60" fill="#FDB465"/>
<rect x="759.40" y="314.50" width="4.02" height="11.70" fill="#FDB465"/>
<rect x="762.97" y="313.50" width="4.02" height="12.70" fill="#FDB465"/>
<rect x="766.54" y="310.30" width="4.02" height="15.90" fill="#FDB465"/>
<rect x="770.11" y="313.90" width="4.02" height="12.30" fill="#FDB465"/>
<rect x="773.68" y="313.20" width="4.02" height="13.00" fill="#FDB465"/>
<rect x="777.26" y="312.30" width="4.02" height="13.90" fill="#FDB465"/>
<rect x="780.83" y="303.00" width="4.02" height="23.20" fill="#FDB465"/>
<text x="755.83" y="208.20" font-size="15.8" font-weight="normal" fill="#111" text-anchor="middle" >T&gt;G</text>
<line x1="441.50" x2="441.50" y1="195.4" y2="327.0" stroke="#000" stroke-width="1.35"/>
<line x1="498.65" x2="498.65" y1="195.4" y2="327.0" stroke="#000" stroke-width="1.35"/>
<line x1="555.80" x2="555.80" y1="195.4" y2="327.0" stroke="#000" stroke-width="1.35"/>
<line x1="612.95" x2="612.95" y1="195.4" y2="327.0" stroke="#000" stroke-width="1.35"/>
<line x1="670.10" x2="670.10" y1="195.4" y2="327.0" stroke="#000" stroke-width="1.35"/>
<line x1="727.25" x2="727.25" y1="195.4" y2="327.0" stroke="#000" stroke-width="1.35"/>
<line x1="784.40" x2="784.40" y1="195.4" y2="327.0" stroke="#000" stroke-width="1.35"/>
<line x1="440.90" x2="785.00" y1="195.4" y2="195.4" stroke="#222" stroke-width="1.1"/>
<line x1="440.90" x2="785.00" y1="210.2" y2="210.2" stroke="#222" stroke-width="1.1"/>
<line x1="440.90" x2="785.00" y1="327.0" y2="327.0" stroke="#111" stroke-width="1.3"/>
<path d="M443.29,328.0 v1.9 M446.86,328.0 v1.9 M450.43,328.0 v1.9 M454.00,328.0 v1.9 M457.57,328.0 v1.9 M461.15,328.0 v1.9 M464.72,328.0 v1.9 M468.29,328.0 v1.9 M471.86,328.0 v1.9 M475.43,328.0 v1.9 M479.00,328.0 v1.9 M482.58,328.0 v1.9 M486.15,328.0 v1.9 M489.72,328.0 v1.9 M493.29,328.0 v1.9 M496.86,328.0 v1.9 M500.44,328.0 v1.9 M504.01,328.0 v1.9 M507.58,328.0 v1.9 M511.15,328.0 v1.9 M514.72,328.0 v1.9 M518.30,328.0 v1.9 M521.87,328.0 v1.9 M525.44,328.0 v1.9 M529.01,328.0 v1.9 M532.58,328.0 v1.9 M536.15,328.0 v1.9 M539.73,328.0 v1.9 M543.30,328.0 v1.9 M546.87,328.0 v1.9 M550.44,328.0 v1.9 M554.01,328.0 v1.9 M557.59,328.0 v1.9 M561.16,328.0 v1.9 M564.73,328.0 v1.9 M568.30,328.0 v1.9 M571.87,328.0 v1.9 M575.45,328.0 v1.9 M579.02,328.0 v1.9 M582.59,328.0 v1.9 M586.16,328.0 v1.9 M589.73,328.0 v1.9 M593.30,328.0 v1.9 M596.88,328.0 v1.9 M600.45,328.0 v1.9 M604.02,328.0 v1.9 M607.59,328.0 v1.9 M611.16,328.0 v1.9 M614.74,328.0 v1.9 M618.31,328.0 v1.9 M621.88,328.0 v1.9 M625.45,328.0 v1.9 M629.02,328.0 v1.9 M632.60,328.0 v1.9 M636.17,328.0 v1.9 M639.74,328.0 v1.9 M643.31,328.0 v1.9 M646.88,328.0 v1.9 M650.45,328.0 v1.9 M654.03,328.0 v1.9 M657.60,328.0 v1.9 M661.17,328.0 v1.9 M664.74,328.0 v1.9 M668.31,328.0 v1.9 M671.89,328.0 v1.9 M675.46,328.0 v1.9 M679.03,328.0 v1.9 M682.60,328.0 v1.9 M686.17,328.0 v1.9 M689.75,328.0 v1.9 M693.32,328.0 v1.9 M696.89,328.0 v1.9 M700.46,328.0 v1.9 M704.03,328.0 v1.9 M707.60,328.0 v1.9 M711.18,328.0 v1.9 M714.75,328.0 v1.9 M718.32,328.0 v1.9 M721.89,328.0 v1.9 M725.46,328.0 v1.9 M729.04,328.0 v1.9 M732.61,328.0 v1.9 M736.18,328.0 v1.9 M739.75,328.0 v1.9 M743.32,328.0 v1.9 M746.90,328.0 v1.9 M750.47,328.0 v1.9 M754.04,328.0 v1.9 M757.61,328.0 v1.9 M761.18,328.0 v1.9 M764.75,328.0 v1.9 M768.33,328.0 v1.9 M771.90,328.0 v1.9 M775.47,328.0 v1.9 M779.04,328.0 v1.9 M782.61,328.0 v1.9" stroke="#222" stroke-width="0.9" fill="none"/>
<path d="M562.70,217.40 L567.30,217.40 L565.00,225.80Z" fill="#111"/>
<path d="M677.30,221.20 L681.90,221.20 L679.60,229.60Z" fill="#111"/>
<rect x="443.6" y="337.1" width="196.70" height="30.40" fill="#fff" stroke="#111" stroke-width="1"/>
<path d="M443.6,327.0 V337.1 M497.4,327.0 V332.0 L640.3,337.1" fill="none" stroke="#222" stroke-width="1.0"/>
<line x1="492.77" x2="492.77" y1="337.1" y2="367.5" stroke="#000" stroke-width="1.05" stroke-dasharray="2.6,1.8"/>
<line x1="541.95" x2="541.95" y1="337.1" y2="367.5" stroke="#000" stroke-width="1.05" stroke-dasharray="2.6,1.8"/>
<line x1="591.12" x2="591.12" y1="337.1" y2="367.5" stroke="#000" stroke-width="1.05" stroke-dasharray="2.6,1.8"/>
<text transform="translate(456.13,365.60) rotate(-90)" font-size="15.2" textLength="26.6" lengthAdjust="spacingAndGlyphs" fill="#111" stroke="#111" stroke-width="0.35">ACA</text>
<text transform="translate(468.30,365.60) rotate(-90)" font-size="15.2" textLength="26.6" lengthAdjust="spacingAndGlyphs" fill="#111" stroke="#111" stroke-width="0.35">ACC</text>
<text transform="translate(480.47,365.60) rotate(-90)" font-size="15.2" textLength="26.6" lengthAdjust="spacingAndGlyphs" fill="#111" stroke="#111" stroke-width="0.35">ACG</text>
<text transform="translate(492.64,365.60) rotate(-90)" font-size="15.2" textLength="26.6" lengthAdjust="spacingAndGlyphs" fill="#111" stroke="#111" stroke-width="0.35">ACT</text>
<text transform="translate(504.81,365.60) rotate(-90)" font-size="15.2" textLength="26.6" lengthAdjust="spacingAndGlyphs" fill="#111" stroke="#111" stroke-width="0.35">CCA</text>
<text transform="translate(516.98,365.60) rotate(-90)" font-size="15.2" textLength="26.6" lengthAdjust="spacingAndGlyphs" fill="#111" stroke="#111" stroke-width="0.35">CCC</text>
<text transform="translate(529.15,365.60) rotate(-90)" font-size="15.2" textLength="26.6" lengthAdjust="spacingAndGlyphs" fill="#111" stroke="#111" stroke-width="0.35">CCG</text>
<text transform="translate(541.32,365.60) rotate(-90)" font-size="15.2" textLength="26.6" lengthAdjust="spacingAndGlyphs" fill="#111" stroke="#111" stroke-width="0.35">CCT</text>
<text transform="translate(553.48,365.60) rotate(-90)" font-size="15.2" textLength="26.6" lengthAdjust="spacingAndGlyphs" fill="#111" stroke="#111" stroke-width="0.35">GCA</text>
<text transform="translate(565.65,365.60) rotate(-90)" font-size="15.2" textLength="26.6" lengthAdjust="spacingAndGlyphs" fill="#111" stroke="#111" stroke-width="0.35">GCC</text>
<text transform="translate(577.82,365.60) rotate(-90)" font-size="15.2" textLength="26.6" lengthAdjust="spacingAndGlyphs" fill="#111" stroke="#111" stroke-width="0.35">GCG</text>
<text transform="translate(589.99,365.60) rotate(-90)" font-size="15.2" textLength="26.6" lengthAdjust="spacingAndGlyphs" fill="#111" stroke="#111" stroke-width="0.35">GCT</text>
<text transform="translate(602.16,365.60) rotate(-90)" font-size="15.2" textLength="26.6" lengthAdjust="spacingAndGlyphs" fill="#111" stroke="#111" stroke-width="0.35">TCA</text>
<text transform="translate(614.33,365.60) rotate(-90)" font-size="15.2" textLength="26.6" lengthAdjust="spacingAndGlyphs" fill="#111" stroke="#111" stroke-width="0.35">TCC</text>
<text transform="translate(626.50,365.60) rotate(-90)" font-size="15.2" textLength="26.6" lengthAdjust="spacingAndGlyphs" fill="#111" stroke="#111" stroke-width="0.35">TCG</text>
<text transform="translate(638.67,365.60) rotate(-90)" font-size="15.2" textLength="26.6" lengthAdjust="spacingAndGlyphs" fill="#111" stroke="#111" stroke-width="0.35">TCT</text>
<text x="1.00" y="404.40" font-size="28.2" font-weight="bold" fill="#000" text-anchor="start" >d</text>
<text x="256.30" y="398.50" font-size="19.4" font-weight="normal" fill="#111" text-anchor="middle" >GOH</text>
<text x="612.20" y="398.50" font-size="19.4" font-weight="normal" fill="#111" text-anchor="middle" >LOH</text>
<line x1="76.4" x2="80.6" y1="449.0" y2="449.0" stroke="#222" stroke-width="1"/>
<text x="71.20" y="454.20" font-size="15.3" font-weight="normal" fill="#111" text-anchor="end" >1500</text>
<line x1="76.4" x2="80.6" y1="480.1" y2="480.1" stroke="#222" stroke-width="1"/>
<text x="71.20" y="484.10" font-size="15.3" font-weight="normal" fill="#111" text-anchor="end" >1000</text>
<line x1="76.4" x2="80.6" y1="511.5" y2="511.5" stroke="#222" stroke-width="1"/>
<text x="71.20" y="512.30" font-size="15.3" font-weight="normal" fill="#111" text-anchor="end" >500</text>
<line x1="76.4" x2="80.6" y1="542.5" y2="542.5" stroke="#222" stroke-width="1"/>
<text x="71.20" y="540.70" font-size="15.3" font-weight="normal" fill="#111" text-anchor="end" >0</text>
<text transform="translate(32.2,526.8) rotate(-90)" font-size="16.8" font-weight="bold" textLength="86" lengthAdjust="spacingAndGlyphs" fill="#111">No. of SNVs</text>
<rect x="80.60" y="406.6" width="345.00" height="13.60" fill="#d2d2d2"/>
<rect x="80.90" y="502.50" width="3.64" height="41.10" fill="#FDB465"/>
<rect x="84.42" y="532.70" width="3.64" height="10.90" fill="#E42A08"/>
<rect x="87.95" y="536.80" width="3.64" height="6.80" fill="#0CE0F7"/>
<rect x="91.47" y="532.80" width="3.64" height="10.80" fill="#0CE0F7"/>
<rect x="94.99" y="458.30" width="3.64" height="85.30" fill="#E42A08"/>
<rect x="98.52" y="539.40" width="3.64" height="4.20" fill="#FDB465"/>
<rect x="102.04" y="538.00" width="3.64" height="5.60" fill="#1EAA12"/>
<rect x="105.57" y="525.70" width="3.64" height="17.90" fill="#1EAA12"/>
<rect x="109.09" y="526.90" width="3.64" height="16.70" fill="#FB7CDF"/>
<rect x="112.61" y="530.90" width="3.64" height="12.70" fill="#0A6BF7"/>
<rect x="116.14" y="497.00" width="3.64" height="46.60" fill="#0A6BF7"/>
<rect x="119.66" y="526.90" width="3.64" height="16.70" fill="#FB7CDF"/>
<text x="102.04" y="417.80" font-size="12" font-weight="bold" fill="#111" text-anchor="middle" letter-spacing="-0.6">A.A</text>
<rect x="80.80" y="432.1" width="17.2" height="17.2" fill="#000"/>
<text x="89.40" y="446.60" font-size="16.2" font-weight="normal" fill="#fff" text-anchor="middle" stroke="#fff" stroke-width="0.25">1</text>
<rect x="123.78" y="540.30" width="3.64" height="3.30" fill="#FDB465"/>
<rect x="127.31" y="534.60" width="3.64" height="9.00" fill="#E42A08"/>
<rect x="130.83" y="539.10" width="3.64" height="4.50" fill="#0CE0F7"/>
<rect x="134.36" y="539.80" width="3.64" height="3.80" fill="#0CE0F7"/>
<rect x="137.88" y="541.20" width="3.64" height="2.40" fill="#E42A08"/>
<rect x="141.40" y="540.90" width="3.64" height="2.70" fill="#FDB465"/>
<rect x="144.93" y="540.90" width="3.64" height="2.70" fill="#1EAA12"/>
<rect x="148.45" y="541.80" width="3.64" height="1.80" fill="#1EAA12"/>
<rect x="151.97" y="537.10" width="3.64" height="6.50" fill="#FB7CDF"/>
<rect x="155.50" y="521.10" width="3.64" height="22.50" fill="#0A6BF7"/>
<rect x="159.02" y="523.90" width="3.64" height="19.70" fill="#0A6BF7"/>
<rect x="162.55" y="537.60" width="3.64" height="6.00" fill="#FB7CDF"/>
<text x="144.93" y="417.80" font-size="12" font-weight="bold" fill="#111" text-anchor="middle" letter-spacing="-0.6">C.C</text>
<rect x="123.68" y="432.1" width="17.2" height="17.2" fill="#000"/>
<text x="132.28" y="446.60" font-size="16.2" font-weight="normal" fill="#fff" text-anchor="middle" stroke="#fff" stroke-width="0.25">2</text>
<rect x="166.67" y="522.00" width="3.64" height="21.60" fill="#FDB465"/>
<rect x="170.19" y="540.90" width="3.64" height="2.70" fill="#E42A08"/>
<rect x="173.72" y="539.80" width="3.64" height="3.80" fill="#0CE0F7"/>
<rect x="177.24" y="537.10" width="3.64" height="6.50" fill="#0CE0F7"/>
<rect x="180.76" y="530.90" width="3.64" height="12.70" fill="#E42A08"/>
<rect x="184.29" y="541.20" width="3.64" height="2.40" fill="#FDB465"/>
<rect x="187.81" y="542.10" width="3.64" height="1.50" fill="#1EAA12"/>
<rect x="191.34" y="539.80" width="3.64" height="3.80" fill="#1EAA12"/>
<rect x="194.86" y="536.80" width="3.64" height="6.80" fill="#FB7CDF"/>
<rect x="198.38" y="528.70" width="3.64" height="14.90" fill="#0A6BF7"/>
<rect x="201.91" y="521.10" width="3.64" height="22.50" fill="#0A6BF7"/>
<rect x="205.43" y="529.10" width="3.64" height="14.50" fill="#FB7CDF"/>
<text x="187.81" y="417.80" font-size="12" font-weight="bold" fill="#111" text-anchor="middle" letter-spacing="-0.6">A.G</text>
<rect x="166.57" y="432.1" width="17.2" height="17.2" fill="#000"/>
<text x="175.17" y="446.60" font-size="16.2" font-weight="normal" fill="#fff" text-anchor="middle" stroke="#fff" stroke-width="0.25">3</text>
<rect x="209.55" y="539.80" width="3.64" height="3.80" fill="#FDB465"/>
<rect x="213.08" y="531.90" width="3.64" height="11.70" fill="#E42A08"/>
<rect x="216.60" y="539.80" width="3.64" height="3.80" fill="#0CE0F7"/>
<rect x="220.13" y="540.30" width="3.64" height="3.30" fill="#0CE0F7"/>
<rect x="223.65" y="540.90" width="3.64" height="2.70" fill="#E42A08"/>
<rect x="227.17" y="541.20" width="3.64" height="2.40" fill="#FDB465"/>
<rect x="230.70" y="540.00" width="3.64" height="3.60" fill="#1EAA12"/>
<rect x="234.22" y="541.20" width="3.64" height="2.40" fill="#1EAA12"/>
<rect x="237.74" y="538.00" width="3.64" height="5.60" fill="#FB7CDF"/>
<rect x="241.27" y="526.40" width="3.64" height="17.20" fill="#0A6BF7"/>
<rect x="244.79" y="486.50" width="3.64" height="57.10" fill="#0A6BF7"/>
<rect x="248.32" y="538.50" width="3.64" height="5.10" fill="#FB7CDF"/>
<text x="230.70" y="417.80" font-size="12" font-weight="bold" fill="#111" text-anchor="middle" letter-spacing="-0.6">C.A</text>
<rect x="209.45" y="432.1" width="17.2" height="17.2" fill="#000"/>
<text x="218.05" y="446.60" font-size="16.2" font-weight="normal" fill="#fff" text-anchor="middle" stroke="#fff" stroke-width="0.25">4</text>
<rect x="252.44" y="536.40" width="3.64" height="7.20" fill="#FDB465"/>
<rect x="255.96" y="535.90" width="3.64" height="7.70" fill="#E42A08"/>
<rect x="259.49" y="540.30" width="3.64" height="3.30" fill="#0CE0F7"/>
<rect x="263.01" y="540.00" width="3.64" height="3.60" fill="#0CE0F7"/>
<rect x="266.53" y="535.90" width="3.64" height="7.70" fill="#E42A08"/>
<rect x="270.06" y="541.20" width="3.64" height="2.40" fill="#FDB465"/>
<rect x="273.58" y="540.90" width="3.64" height="2.70" fill="#1EAA12"/>
<rect x="277.11" y="540.90" width="3.64" height="2.70" fill="#1EAA12"/>
<rect x="280.63" y="539.10" width="3.64" height="4.50" fill="#FB7CDF"/>
<rect x="284.15" y="535.50" width="3.64" height="8.10" fill="#0A6BF7"/>
<rect x="287.68" y="529.60" width="3.64" height="14.00" fill="#0A6BF7"/>
<rect x="291.20" y="534.10" width="3.64" height="9.50" fill="#FB7CDF"/>
<text x="273.58" y="417.80" font-size="12" font-weight="bold" fill="#111" text-anchor="middle" letter-spacing="-0.6">A.C</text>
<rect x="252.34" y="432.1" width="17.2" height="17.2" fill="#000"/>
<text x="260.94" y="446.60" font-size="16.2" font-weight="normal" fill="#fff" text-anchor="middle" stroke="#fff" stroke-width="0.25">5</text>
<rect x="295.32" y="539.40" width="3.64" height="4.20" fill="#FDB465"/>
<rect x="298.85" y="535.50" width="3.64" height="8.10" fill="#E42A08"/>
<rect x="302.37" y="540.70" width="3.64" height="2.90" fill="#0CE0F7"/>
<rect x="305.90" y="540.70" width="3.64" height="2.90" fill="#0CE0F7"/>
<rect x="309.42" y="532.80" width="3.64" height="10.80" fill="#E42A08"/>
<rect x="312.94" y="541.80" width="3.64" height="1.80" fill="#FDB465"/>
<rect x="316.47" y="540.90" width="3.64" height="2.70" fill="#1EAA12"/>
<rect x="319.99" y="537.60" width="3.64" height="6.00" fill="#1EAA12"/>
<rect x="323.51" y="533.50" width="3.64" height="10.10" fill="#FB7CDF"/>
<rect x="327.04" y="536.20" width="3.64" height="7.40" fill="#0A6BF7"/>
<rect x="330.56" y="495.70" width="3.64" height="47.90" fill="#0A6BF7"/>
<rect x="334.09" y="536.20" width="3.64" height="7.40" fill="#FB7CDF"/>
<text x="316.47" y="417.80" font-size="12" font-weight="bold" fill="#111" text-anchor="middle" letter-spacing="-0.6">G.A</text>
<rect x="295.22" y="432.1" width="17.2" height="17.2" fill="#000"/>
<text x="303.82" y="446.60" font-size="16.2" font-weight="normal" fill="#fff" text-anchor="middle" stroke="#fff" stroke-width="0.25">6</text>
<rect x="338.21" y="540.70" width="3.67" height="2.90" fill="#E42A08"/>
<rect x="341.76" y="539.10" width="3.67" height="4.50" fill="#0CE0F7"/>
<rect x="345.32" y="540.10" width="3.67" height="3.50" fill="#FDB465"/>
<rect x="348.87" y="541.60" width="3.67" height="2.00" fill="#1EAA12"/>
<rect x="352.42" y="538.10" width="3.67" height="5.50" fill="#FB7CDF"/>
<rect x="355.98" y="532.30" width="3.67" height="11.30" fill="#0A6BF7"/>
<text x="348.87" y="417.80" font-size="12" font-weight="bold" fill="#111" text-anchor="middle" textLength="20.52" lengthAdjust="spacingAndGlyphs" stroke="#111" stroke-width="0.3">C.G</text>
<rect x="338.41" y="432.1" width="17.2" height="17.2" fill="#000"/>
<text x="347.01" y="446.60" font-size="16.2" font-weight="normal" fill="#fff" text-anchor="middle" stroke="#fff" stroke-width="0.25">7</text>
<rect x="360.13" y="535.40" width="3.67" height="8.20" fill="#E42A08"/>
<rect x="363.69" y="535.20" width="3.67" height="8.40" fill="#0CE0F7"/>
<rect x="367.24" y="534.80" width="3.67" height="8.80" fill="#FDB465"/>
<rect x="370.79" y="539.70" width="3.67" height="3.90" fill="#1EAA12"/>
<rect x="374.35" y="535.40" width="3.67" height="8.20" fill="#FB7CDF"/>
<rect x="377.90" y="535.80" width="3.67" height="7.80" fill="#0A6BF7"/>
<text x="370.79" y="417.80" font-size="12" font-weight="bold" fill="#111" text-anchor="middle" textLength="20.52" lengthAdjust="spacingAndGlyphs" stroke="#111" stroke-width="0.3">A.T</text>
<rect x="360.33" y="432.1" width="17.2" height="17.2" fill="#000"/>
<text x="368.93" y="446.60" font-size="16.2" font-weight="normal" fill="#fff" text-anchor="middle" stroke="#fff" stroke-width="0.25">8</text>
<rect x="382.05" y="525.00" width="3.67" height="18.60" fill="#E42A08"/>
<rect x="385.61" y="536.20" width="3.67" height="7.40" fill="#0CE0F7"/>
<rect x="389.16" y="538.30" width="3.67" height="5.30" fill="#FDB465"/>
<rect x="392.72" y="529.30" width="3.67" height="14.30" fill="#1EAA12"/>
<rect x="396.27" y="535.20" width="3.67" height="8.40" fill="#FB7CDF"/>
<rect x="399.82" y="506.50" width="3.67" height="37.10" fill="#0A6BF7"/>
<text x="392.72" y="417.80" font-size="12" font-weight="bold" fill="#111" text-anchor="middle" textLength="20.52" lengthAdjust="spacingAndGlyphs" stroke="#111" stroke-width="0.3">T.A</text>
<rect x="382.25" y="432.1" width="17.2" height="17.2" fill="#000"/>
<text x="390.85" y="446.60" font-size="16.2" font-weight="normal" fill="#fff" text-anchor="middle" stroke="#fff" stroke-width="0.25">9</text>
<rect x="403.98" y="538.10" width="3.67" height="5.50" fill="#E42A08"/>
<rect x="407.53" y="541.00" width="3.67" height="2.60" fill="#0CE0F7"/>
<rect x="411.08" y="542.00" width="3.67" height="1.60" fill="#FDB465"/>
<rect x="414.64" y="541.00" width="3.67" height="2.60" fill="#1EAA12"/>
<rect x="418.19" y="537.10" width="3.67" height="6.50" fill="#FB7CDF"/>
<rect x="421.75" y="530.90" width="3.67" height="12.70" fill="#0A6BF7"/>
<text x="414.64" y="417.80" font-size="12" font-weight="bold" fill="#111" text-anchor="middle" textLength="20.52" lengthAdjust="spacingAndGlyphs" stroke="#111" stroke-width="0.3">G.C</text>
<rect x="404.18" y="432.1" width="18.4" height="17.2" fill="#000"/>
<text x="413.38" y="446.60" font-size="16.2" font-weight="normal" fill="#fff" text-anchor="middle" textLength="16.6" lengthAdjust="spacingAndGlyphs" stroke="#fff" stroke-width="0.25">10</text>
<line x1="80.60" x2="80.60" y1="406.6" y2="544.0" stroke="#000" stroke-width="1.35"/>
<line x1="123.48" x2="123.48" y1="406.6" y2="544.0" stroke="#000" stroke-width="1.35"/>
<line x1="166.37" x2="166.37" y1="406.6" y2="544.0" stroke="#000" stroke-width="1.35"/>
<line x1="209.25" x2="209.25" y1="406.6" y2="544.0" stroke="#000" stroke-width="1.35"/>
<line x1="252.14" x2="252.14" y1="406.6" y2="544.0" stroke="#000" stroke-width="1.35"/>
<line x1="295.02" x2="295.02" y1="406.6" y2="544.0" stroke="#000" stroke-width="1.35"/>
<line x1="337.91" x2="337.91" y1="406.6" y2="544.0" stroke="#000" stroke-width="1.35"/>
<line x1="359.83" x2="359.83" y1="406.6" y2="544.0" stroke="#000" stroke-width="1.35"/>
<line x1="381.75" x2="381.75" y1="406.6" y2="544.0" stroke="#000" stroke-width="1.35"/>
<line x1="403.68" x2="403.68" y1="406.6" y2="544.0" stroke="#000" stroke-width="1.35"/>
<line x1="425.60" x2="425.60" y1="406.6" y2="544.0" stroke="#000" stroke-width="1.35"/>
<line x1="80.00" x2="426.20" y1="406.6" y2="406.6" stroke="#222" stroke-width="1.1"/>
<line x1="80.00" x2="426.20" y1="420.2" y2="420.2" stroke="#222" stroke-width="1.1"/>
<line x1="80.00" x2="426.20" y1="544.0" y2="544.0" stroke="#111" stroke-width="1.3"/>
<path d="M82.40,545.0 v1.9 M85.99,545.0 v1.9 M89.58,545.0 v1.9 M93.18,545.0 v1.9 M96.77,545.0 v1.9 M100.37,545.0 v1.9 M103.96,545.0 v1.9 M107.55,545.0 v1.9 M111.15,545.0 v1.9 M114.74,545.0 v1.9 M118.33,545.0 v1.9 M121.93,545.0 v1.9 M125.52,545.0 v1.9 M129.12,545.0 v1.9 M132.71,545.0 v1.9 M136.30,545.0 v1.9 M139.90,545.0 v1.9 M143.49,545.0 v1.9 M147.08,545.0 v1.9 M150.68,545.0 v1.9 M154.27,545.0 v1.9 M157.87,545.0 v1.9 M161.46,545.0 v1.9 M165.05,545.0 v1.9 M168.65,545.0 v1.9 M172.24,545.0 v1.9 M175.83,545.0 v1.9 M179.43,545.0 v1.9 M183.02,545.0 v1.9 M186.62,545.0 v1.9 M190.21,545.0 v1.9 M193.80,545.0 v1.9 M197.40,545.0 v1.9 M200.99,545.0 v1.9 M204.58,545.0 v1.9 M208.18,545.0 v1.9 M211.77,545.0 v1.9 M215.37,545.0 v1.9 M218.96,545.0 v1.9 M222.55,545.0 v1.9 M226.15,545.0 v1.9 M229.74,545.0 v1.9 M233.33,545.0 v1.9 M236.93,545.0 v1.9 M240.52,545.0 v1.9 M244.12,545.0 v1.9 M247.71,545.0 v1.9 M251.30,545.0 v1.9 M254.90,545.0 v1.9 M258.49,545.0 v1.9 M262.08,545.0 v1.9 M265.68,545.0 v1.9 M269.27,545.0 v1.9 M272.87,545.0 v1.9 M276.46,545.0 v1.9 M280.05,545.0 v1.9 M283.65,545.0 v1.9 M287.24,545.0 v1.9 M290.83,545.0 v1.9 M294.43,545.0 v1.9 M298.02,545.0 v1.9 M301.62,545.0 v1.9 M305.21,545.0 v1.9 M308.80,545.0 v1.9 M312.40,545.0 v1.9 M315.99,545.0 v1.9 M319.58,545.0 v1.9 M323.18,545.0 v1.9 M326.77,545.0 v1.9 M330.37,545.0 v1.9 M333.96,545.0 v1.9 M337.55,545.0 v1.9 M341.15,545.0 v1.9 M344.74,545.0 v1.9 M348.33,545.0 v1.9 M351.93,545.0 v1.9 M355.52,545.0 v1.9 M359.12,545.0 v1.9 M362.71,545.0 v1.9 M366.30,545.0 v1.9 M369.90,545.0 v1.9 M373.49,545.0 v1.9 M377.08,545.0 v1.9 M380.68,545.0 v1.9 M384.27,545.0 v1.9 M387.87,545.0 v1.9 M391.46,545.0 v1.9 M395.05,545.0 v1.9 M398.65,545.0 v1.9 M402.24,545.0 v1.9 M405.83,545.0 v1.9 M409.43,545.0 v1.9 M413.02,545.0 v1.9 M416.62,545.0 v1.9 M420.21,545.0 v1.9 M423.80,545.0 v1.9" stroke="#222" stroke-width="0.9" fill="none"/>
<path d="M193.60,523.40 L198.00,523.40 L195.80,531.60Z" fill="#111"/>
<path d="M198.00,513.30 L202.40,513.30 L200.20,521.50Z" fill="#111"/>
<rect x="82.6" y="553.8" width="153.00" height="30.60" fill="#fff" stroke="#111" stroke-width="1"/>
<path d="M82.6,544.0 V553.8 M123.2,544.0 V548.8 L235.6,553.8" fill="none" stroke="#222" stroke-width="0.8"/>
<line x1="108.10" x2="108.10" y1="553.8" y2="584.4" stroke="#000" stroke-width="1.05" stroke-dasharray="2.6,1.8"/>
<line x1="133.60" x2="133.60" y1="553.8" y2="584.4" stroke="#000" stroke-width="1.05" stroke-dasharray="2.6,1.8"/>
<line x1="159.10" x2="159.10" y1="553.8" y2="584.4" stroke="#000" stroke-width="1.05" stroke-dasharray="2.6,1.8"/>
<line x1="184.60" x2="184.60" y1="553.8" y2="584.4" stroke="#000" stroke-width="1.05" stroke-dasharray="2.6,1.8"/>
<line x1="210.10" x2="210.10" y1="553.8" y2="584.4" stroke="#000" stroke-width="1.05" stroke-dasharray="2.6,1.8"/>
<text transform="translate(94.67,581.30) rotate(-90)" font-size="16" textLength="24.6" lengthAdjust="spacingAndGlyphs" fill="#FDB465" stroke="#FDB465" stroke-width="0.28">A&gt;C</text>
<text transform="translate(107.42,581.30) rotate(-90)" font-size="16" textLength="24.6" lengthAdjust="spacingAndGlyphs" fill="#E42A08" stroke="#E42A08" stroke-width="0.5">C&gt;A</text>
<text transform="translate(120.17,581.30) rotate(-90)" font-size="16" textLength="24.6" lengthAdjust="spacingAndGlyphs" fill="#0CE0F7" stroke="#0CE0F7" stroke-width="0.28">T&gt;A</text>
<text transform="translate(132.92,581.30) rotate(-90)" font-size="16" textLength="24.6" lengthAdjust="spacingAndGlyphs" fill="#0CE0F7" stroke="#0CE0F7" stroke-width="0.28">A&gt;T</text>
<text transform="translate(145.67,581.30) rotate(-90)" font-size="16" textLength="24.6" lengthAdjust="spacingAndGlyphs" fill="#E42A08" stroke="#E42A08" stroke-width="0.5">G&gt;T</text>
<text transform="translate(158.42,581.30) rotate(-90)" font-size="16" textLength="24.6" lengthAdjust="spacingAndGlyphs" fill="#FDB465" stroke="#FDB465" stroke-width="0.28">T&gt;G</text>
<text transform="translate(171.17,581.30) rotate(-90)" font-size="16" textLength="24.6" lengthAdjust="spacingAndGlyphs" fill="#1EAA12" stroke="#1EAA12" stroke-width="0.5">C&gt;G</text>
<text transform="translate(183.92,581.30) rotate(-90)" font-size="16" textLength="24.6" lengthAdjust="spacingAndGlyphs" fill="#1EAA12" stroke="#1EAA12" stroke-width="0.5">G&gt;C</text>
<text transform="translate(196.67,581.30) rotate(-90)" font-size="16" textLength="24.6" lengthAdjust="spacingAndGlyphs" fill="#FB7CDF" stroke="#FB7CDF" stroke-width="0.28">T&gt;C</text>
<text transform="translate(209.42,581.30) rotate(-90)" font-size="16" textLength="24.6" lengthAdjust="spacingAndGlyphs" fill="#0A6BF7" stroke="#0A6BF7" stroke-width="0.5">C&gt;T</text>
<text transform="translate(222.17,581.30) rotate(-90)" font-size="16" textLength="24.6" lengthAdjust="spacingAndGlyphs" fill="#0A6BF7" stroke="#0A6BF7" stroke-width="0.5">G&gt;A</text>
<text transform="translate(234.92,581.30) rotate(-90)" font-size="16" textLength="24.6" lengthAdjust="spacingAndGlyphs" fill="#FB7CDF" stroke="#FB7CDF" stroke-width="0.28">A&gt;G</text>
<rect x="339.6" y="553.8" width="75.90" height="30.60" fill="#fff" stroke="#111" stroke-width="1"/>
<path d="M339.6,544.0 V553.8 M357.6,544.0 V548.8 L415.5,553.8" fill="none" stroke="#222" stroke-width="0.8"/>
<line x1="364.90" x2="364.90" y1="553.8" y2="584.4" stroke="#000" stroke-width="1.05" stroke-dasharray="2.6,1.8"/>
<line x1="390.20" x2="390.20" y1="553.8" y2="584.4" stroke="#000" stroke-width="1.05" stroke-dasharray="2.6,1.8"/>
<text transform="translate(351.62,581.30) rotate(-90)" font-size="16" textLength="24.6" lengthAdjust="spacingAndGlyphs" fill="#E42A08" stroke="#E42A08" stroke-width="0.5">C&gt;A</text>
<text transform="translate(364.28,581.30) rotate(-90)" font-size="16" textLength="24.6" lengthAdjust="spacingAndGlyphs" fill="#0CE0F7" stroke="#0CE0F7" stroke-width="0.28">T&gt;A</text>
<text transform="translate(376.93,581.30) rotate(-90)" font-size="16" textLength="24.6" lengthAdjust="spacingAndGlyphs" fill="#FDB465" stroke="#FDB465" stroke-width="0.28">T&gt;G</text>
<text transform="translate(389.57,581.30) rotate(-90)" font-size="16" textLength="24.6" lengthAdjust="spacingAndGlyphs" fill="#1EAA12" stroke="#1EAA12" stroke-width="0.5">C&gt;G</text>
<text transform="translate(402.22,581.30) rotate(-90)" font-size="16" textLength="24.6" lengthAdjust="spacingAndGlyphs" fill="#FB7CDF" stroke="#FB7CDF" stroke-width="0.28">T&gt;C</text>
<text transform="translate(414.88,581.30) rotate(-90)" font-size="16" textLength="24.6" lengthAdjust="spacingAndGlyphs" fill="#0A6BF7" stroke="#0A6BF7" stroke-width="0.5">C&gt;T</text>
<rect x="439.80" y="406.6" width="344.70" height="13.60" fill="#d2d2d2"/>
<rect x="440.10" y="519.20" width="3.64" height="24.40" fill="#FDB465"/>
<rect x="443.62" y="512.00" width="3.64" height="31.60" fill="#E42A08"/>
<rect x="447.14" y="523.50" width="3.64" height="20.10" fill="#0CE0F7"/>
<rect x="450.66" y="527.00" width="3.64" height="16.60" fill="#0CE0F7"/>
<rect x="454.18" y="526.40" width="3.64" height="17.20" fill="#E42A08"/>
<rect x="457.70" y="527.40" width="3.64" height="16.20" fill="#FDB465"/>
<rect x="461.22" y="519.20" width="3.64" height="24.40" fill="#1EAA12"/>
<rect x="464.74" y="518.20" width="3.64" height="25.40" fill="#1EAA12"/>
<rect x="468.27" y="461.00" width="3.64" height="82.60" fill="#FB7CDF"/>
<rect x="471.79" y="459.20" width="3.64" height="84.40" fill="#0A6BF7"/>
<rect x="475.31" y="487.30" width="3.64" height="56.30" fill="#0A6BF7"/>
<rect x="478.83" y="499.60" width="3.64" height="44.00" fill="#FB7CDF"/>
<text x="461.22" y="417.80" font-size="12" font-weight="bold" fill="#111" text-anchor="middle" letter-spacing="-0.6">A.A</text>
<rect x="440.00" y="432.1" width="17.2" height="17.2" fill="#000"/>
<text x="448.60" y="446.60" font-size="16.2" font-weight="normal" fill="#fff" text-anchor="middle" stroke="#fff" stroke-width="0.25">1</text>
<rect x="482.95" y="530.50" width="3.64" height="13.10" fill="#FDB465"/>
<rect x="486.47" y="532.50" width="3.64" height="11.10" fill="#E42A08"/>
<rect x="489.99" y="535.40" width="3.64" height="8.20" fill="#0CE0F7"/>
<rect x="493.51" y="535.20" width="3.64" height="8.40" fill="#0CE0F7"/>
<rect x="497.03" y="534.80" width="3.64" height="8.80" fill="#E42A08"/>
<rect x="500.55" y="535.40" width="3.64" height="8.20" fill="#FDB465"/>
<rect x="504.07" y="534.20" width="3.64" height="9.40" fill="#1EAA12"/>
<rect x="507.59" y="533.20" width="3.64" height="10.40" fill="#1EAA12"/>
<rect x="511.11" y="510.80" width="3.64" height="32.80" fill="#FB7CDF"/>
<rect x="514.63" y="512.30" width="3.64" height="31.30" fill="#0A6BF7"/>
<rect x="518.15" y="488.50" width="3.64" height="55.10" fill="#0A6BF7"/>
<rect x="521.67" y="485.40" width="3.64" height="58.20" fill="#FB7CDF"/>
<text x="504.07" y="417.80" font-size="12" font-weight="bold" fill="#111" text-anchor="middle" letter-spacing="-0.6">C.C</text>
<rect x="482.85" y="432.1" width="17.2" height="17.2" fill="#000"/>
<text x="491.45" y="446.60" font-size="16.2" font-weight="normal" fill="#fff" text-anchor="middle" stroke="#fff" stroke-width="0.25">2</text>
<rect x="525.80" y="534.20" width="3.64" height="9.40" fill="#FDB465"/>
<rect x="529.32" y="533.40" width="3.64" height="10.20" fill="#E42A08"/>
<rect x="532.84" y="530.90" width="3.64" height="12.70" fill="#0CE0F7"/>
<rect x="536.36" y="531.30" width="3.64" height="12.30" fill="#0CE0F7"/>
<rect x="539.88" y="530.30" width="3.64" height="13.30" fill="#E42A08"/>
<rect x="543.40" y="530.30" width="3.64" height="13.30" fill="#FDB465"/>
<rect x="546.92" y="531.50" width="3.64" height="12.10" fill="#1EAA12"/>
<rect x="550.44" y="532.30" width="3.64" height="11.30" fill="#1EAA12"/>
<rect x="553.96" y="446.00" width="3.64" height="97.60" fill="#FB7CDF"/>
<rect x="557.48" y="442.00" width="3.64" height="101.60" fill="#0A6BF7"/>
<rect x="561.00" y="498.30" width="3.64" height="45.30" fill="#0A6BF7"/>
<rect x="564.52" y="499.30" width="3.64" height="44.30" fill="#FB7CDF"/>
<text x="546.92" y="417.80" font-size="12" font-weight="bold" fill="#111" text-anchor="middle" letter-spacing="-0.6">A.G</text>
<rect x="525.70" y="432.1" width="17.2" height="17.2" fill="#000"/>
<text x="534.30" y="446.60" font-size="16.2" font-weight="normal" fill="#fff" text-anchor="middle" stroke="#fff" stroke-width="0.25">3</text>
<rect x="568.64" y="529.30" width="3.64" height="14.30" fill="#FDB465"/>
<rect x="572.16" y="528.40" width="3.64" height="15.20" fill="#E42A08"/>
<rect x="575.68" y="537.10" width="3.64" height="6.50" fill="#0CE0F7"/>
<rect x="579.20" y="537.30" width="3.64" height="6.30" fill="#0CE0F7"/>
<rect x="582.73" y="538.30" width="3.64" height="5.30" fill="#E42A08"/>
<rect x="586.25" y="538.70" width="3.64" height="4.90" fill="#FDB465"/>
<rect x="589.77" y="534.80" width="3.64" height="8.80" fill="#1EAA12"/>
<rect x="593.29" y="534.40" width="3.64" height="9.20" fill="#1EAA12"/>
<rect x="596.81" y="507.50" width="3.64" height="36.10" fill="#FB7CDF"/>
<rect x="600.33" y="507.50" width="3.64" height="36.10" fill="#0A6BF7"/>
<rect x="603.85" y="492.20" width="3.64" height="51.40" fill="#0A6BF7"/>
<rect x="607.37" y="496.10" width="3.64" height="47.50" fill="#FB7CDF"/>
<text x="589.77" y="417.80" font-size="12" font-weight="bold" fill="#111" text-anchor="middle" letter-spacing="-0.6">C.A</text>
<rect x="568.54" y="432.1" width="17.2" height="17.2" fill="#000"/>
<text x="577.14" y="446.60" font-size="16.2" font-weight="normal" fill="#fff" text-anchor="middle" stroke="#fff" stroke-width="0.25">4</text>
<rect x="611.49" y="527.40" width="3.64" height="16.20" fill="#FDB465"/>
<rect x="615.01" y="528.00" width="3.64" height="15.60" fill="#E42A08"/>
<rect x="618.53" y="532.80" width="3.64" height="10.80" fill="#0CE0F7"/>
<rect x="622.05" y="532.50" width="3.64" height="11.10" fill="#0CE0F7"/>
<rect x="625.57" y="535.20" width="3.64" height="8.40" fill="#E42A08"/>
<rect x="629.09" y="534.80" width="3.64" height="8.80" fill="#FDB465"/>
<rect x="632.61" y="532.30" width="3.64" height="11.30" fill="#1EAA12"/>
<rect x="636.14" y="531.90" width="3.64" height="11.70" fill="#1EAA12"/>
<rect x="639.66" y="508.80" width="3.64" height="34.80" fill="#FB7CDF"/>
<rect x="643.18" y="509.00" width="3.64" height="34.60" fill="#0A6BF7"/>
<rect x="646.70" y="508.80" width="3.64" height="34.80" fill="#0A6BF7"/>
<rect x="650.22" y="508.00" width="3.64" height="35.60" fill="#FB7CDF"/>
<text x="632.61" y="417.80" font-size="12" font-weight="bold" fill="#111" text-anchor="middle" letter-spacing="-0.6">A.C</text>
<rect x="611.39" y="432.1" width="17.2" height="17.2" fill="#000"/>
<text x="619.99" y="446.60" font-size="16.2" font-weight="normal" fill="#fff" text-anchor="middle" stroke="#fff" stroke-width="0.25">5</text>
<rect x="654.34" y="530.50" width="3.64" height="13.10" fill="#FDB465"/>
<rect x="657.86" y="529.30" width="3.64" height="14.30" fill="#E42A08"/>
<rect x="661.38" y="537.10" width="3.64" height="6.50" fill="#0CE0F7"/>
<rect x="664.90" y="537.70" width="3.64" height="5.90" fill="#0CE0F7"/>
<rect x="668.42" y="535.20" width="3.64" height="8.40" fill="#E42A08"/>
<rect x="671.94" y="534.20" width="3.64" height="9.40" fill="#FDB465"/>
<rect x="675.46" y="531.30" width="3.64" height="12.30" fill="#1EAA12"/>
<rect x="678.98" y="532.30" width="3.64" height="11.30" fill="#1EAA12"/>
<rect x="682.50" y="511.40" width="3.64" height="32.20" fill="#FB7CDF"/>
<rect x="686.02" y="513.90" width="3.64" height="29.70" fill="#0A6BF7"/>
<rect x="689.54" y="509.00" width="3.64" height="34.60" fill="#0A6BF7"/>
<rect x="693.07" y="510.00" width="3.64" height="33.60" fill="#FB7CDF"/>
<text x="675.46" y="417.80" font-size="12" font-weight="bold" fill="#111" text-anchor="middle" letter-spacing="-0.6">G.A</text>
<rect x="654.24" y="432.1" width="17.2" height="17.2" fill="#000"/>
<text x="662.84" y="446.60" font-size="16.2" font-weight="normal" fill="#fff" text-anchor="middle" stroke="#fff" stroke-width="0.25">6</text>
<rect x="697.19" y="533.80" width="3.67" height="9.80" fill="#E42A08"/>
<rect x="700.74" y="533.80" width="3.67" height="9.80" fill="#0CE0F7"/>
<rect x="704.29" y="533.80" width="3.67" height="9.80" fill="#FDB465"/>
<rect x="707.84" y="537.10" width="3.67" height="6.50" fill="#1EAA12"/>
<rect x="711.39" y="469.40" width="3.67" height="74.20" fill="#FB7CDF"/>
<rect x="714.94" y="467.80" width="3.67" height="75.80" fill="#0A6BF7"/>
<text x="707.84" y="417.80" font-size="12" font-weight="bold" fill="#111" text-anchor="middle" textLength="20.50" lengthAdjust="spacingAndGlyphs" stroke="#111" stroke-width="0.3">C.G</text>
<rect x="697.39" y="432.1" width="17.2" height="17.2" fill="#000"/>
<text x="705.99" y="446.60" font-size="16.2" font-weight="normal" fill="#fff" text-anchor="middle" stroke="#fff" stroke-width="0.25">7</text>
<rect x="719.09" y="530.30" width="3.67" height="13.30" fill="#E42A08"/>
<rect x="722.64" y="527.40" width="3.67" height="16.20" fill="#0CE0F7"/>
<rect x="726.19" y="530.50" width="3.67" height="13.10" fill="#FDB465"/>
<rect x="729.74" y="524.60" width="3.67" height="19.00" fill="#1EAA12"/>
<rect x="733.29" y="481.10" width="3.67" height="62.50" fill="#FB7CDF"/>
<rect x="736.84" y="479.70" width="3.67" height="63.90" fill="#0A6BF7"/>
<text x="729.74" y="417.80" font-size="12" font-weight="bold" fill="#111" text-anchor="middle" textLength="20.50" lengthAdjust="spacingAndGlyphs" stroke="#111" stroke-width="0.3">A.T</text>
<rect x="719.29" y="432.1" width="17.2" height="17.2" fill="#000"/>
<text x="727.89" y="446.60" font-size="16.2" font-weight="normal" fill="#fff" text-anchor="middle" stroke="#fff" stroke-width="0.25">8</text>
<rect x="740.99" y="529.90" width="3.67" height="13.70" fill="#E42A08"/>
<rect x="744.54" y="524.60" width="3.67" height="19.00" fill="#0CE0F7"/>
<rect x="748.09" y="530.50" width="3.67" height="13.10" fill="#FDB465"/>
<rect x="751.64" y="527.60" width="3.67" height="16.00" fill="#1EAA12"/>
<rect x="755.20" y="508.00" width="3.67" height="35.60" fill="#FB7CDF"/>
<rect x="758.75" y="506.10" width="3.67" height="37.50" fill="#0A6BF7"/>
<text x="751.64" y="417.80" font-size="12" font-weight="bold" fill="#111" text-anchor="middle" textLength="20.50" lengthAdjust="spacingAndGlyphs" stroke="#111" stroke-width="0.3">T.A</text>
<rect x="741.19" y="432.1" width="17.2" height="17.2" fill="#000"/>
<text x="749.79" y="446.60" font-size="16.2" font-weight="normal" fill="#fff" text-anchor="middle" stroke="#fff" stroke-width="0.25">9</text>
<rect x="762.90" y="534.40" width="3.67" height="9.20" fill="#E42A08"/>
<rect x="766.45" y="537.10" width="3.67" height="6.50" fill="#0CE0F7"/>
<rect x="770.00" y="533.40" width="3.67" height="10.20" fill="#FDB465"/>
<rect x="773.55" y="533.20" width="3.67" height="10.40" fill="#1EAA12"/>
<rect x="777.10" y="515.70" width="3.67" height="27.90" fill="#FB7CDF"/>
<rect x="780.65" y="517.20" width="3.67" height="26.40" fill="#0A6BF7"/>
<text x="773.55" y="417.80" font-size="12" font-weight="bold" fill="#111" text-anchor="middle" textLength="20.50" lengthAdjust="spacingAndGlyphs" stroke="#111" stroke-width="0.3">G.C</text>
<rect x="763.10" y="432.1" width="18.4" height="17.2" fill="#000"/>
<text x="772.30" y="446.60" font-size="16.2" font-weight="normal" fill="#fff" text-anchor="middle" textLength="16.6" lengthAdjust="spacingAndGlyphs" stroke="#fff" stroke-width="0.25">10</text>
<line x1="439.80" x2="439.80" y1="406.6" y2="544.0" stroke="#000" stroke-width="1.35"/>
<line x1="482.65" x2="482.65" y1="406.6" y2="544.0" stroke="#000" stroke-width="1.35"/>
<line x1="525.50" x2="525.50" y1="406.6" y2="544.0" stroke="#000" stroke-width="1.35"/>
<line x1="568.34" x2="568.34" y1="406.6" y2="544.0" stroke="#000" stroke-width="1.35"/>
<line x1="611.19" x2="611.19" y1="406.6" y2="544.0" stroke="#000" stroke-width="1.35"/>
<line x1="654.04" x2="654.04" y1="406.6" y2="544.0" stroke="#000" stroke-width="1.35"/>
<line x1="696.89" x2="696.89" y1="406.6" y2="544.0" stroke="#000" stroke-width="1.35"/>
<line x1="718.79" x2="718.79" y1="406.6" y2="544.0" stroke="#000" stroke-width="1.35"/>
<line x1="740.69" x2="740.69" y1="406.6" y2="544.0" stroke="#000" stroke-width="1.35"/>
<line x1="762.60" x2="762.60" y1="406.6" y2="544.0" stroke="#000" stroke-width="1.35"/>
<line x1="784.50" x2="784.50" y1="406.6" y2="544.0" stroke="#000" stroke-width="1.35"/>
<line x1="439.20" x2="785.10" y1="406.6" y2="406.6" stroke="#222" stroke-width="1.1"/>
<line x1="439.20" x2="785.10" y1="420.2" y2="420.2" stroke="#222" stroke-width="1.1"/>
<line x1="439.20" x2="785.10" y1="544.0" y2="544.0" stroke="#111" stroke-width="1.3"/>
<path d="M441.60,545.0 v1.9 M445.19,545.0 v1.9 M448.78,545.0 v1.9 M452.37,545.0 v1.9 M455.96,545.0 v1.9 M459.55,545.0 v1.9 M463.14,545.0 v1.9 M466.73,545.0 v1.9 M470.32,545.0 v1.9 M473.91,545.0 v1.9 M477.50,545.0 v1.9 M481.09,545.0 v1.9 M484.68,545.0 v1.9 M488.27,545.0 v1.9 M491.86,545.0 v1.9 M495.45,545.0 v1.9 M499.05,545.0 v1.9 M502.64,545.0 v1.9 M506.23,545.0 v1.9 M509.82,545.0 v1.9 M513.41,545.0 v1.9 M517.00,545.0 v1.9 M520.59,545.0 v1.9 M524.18,545.0 v1.9 M527.77,545.0 v1.9 M531.36,545.0 v1.9 M534.95,545.0 v1.9 M538.54,545.0 v1.9 M542.13,545.0 v1.9 M545.72,545.0 v1.9 M549.31,545.0 v1.9 M552.90,545.0 v1.9 M556.50,545.0 v1.9 M560.09,545.0 v1.9 M563.68,545.0 v1.9 M567.27,545.0 v1.9 M570.86,545.0 v1.9 M574.45,545.0 v1.9 M578.04,545.0 v1.9 M581.63,545.0 v1.9 M585.22,545.0 v1.9 M588.81,545.0 v1.9 M592.40,545.0 v1.9 M595.99,545.0 v1.9 M599.58,545.0 v1.9 M603.17,545.0 v1.9 M606.76,545.0 v1.9 M610.35,545.0 v1.9 M613.95,545.0 v1.9 M617.54,545.0 v1.9 M621.13,545.0 v1.9 M624.72,545.0 v1.9 M628.31,545.0 v1.9 M631.90,545.0 v1.9 M635.49,545.0 v1.9 M639.08,545.0 v1.9 M642.67,545.0 v1.9 M646.26,545.0 v1.9 M649.85,545.0 v1.9 M653.44,545.0 v1.9 M657.03,545.0 v1.9 M660.62,545.0 v1.9 M664.21,545.0 v1.9 M667.80,545.0 v1.9 M671.40,545.0 v1.9 M674.99,545.0 v1.9 M678.58,545.0 v1.9 M682.17,545.0 v1.9 M685.76,545.0 v1.9 M689.35,545.0 v1.9 M692.94,545.0 v1.9 M696.53,545.0 v1.9 M700.12,545.0 v1.9 M703.71,545.0 v1.9 M707.30,545.0 v1.9 M710.89,545.0 v1.9 M714.48,545.0 v1.9 M718.07,545.0 v1.9 M721.66,545.0 v1.9 M725.25,545.0 v1.9 M728.85,545.0 v1.9 M732.44,545.0 v1.9 M736.03,545.0 v1.9 M739.62,545.0 v1.9 M743.21,545.0 v1.9 M746.80,545.0 v1.9 M750.39,545.0 v1.9 M753.98,545.0 v1.9 M757.57,545.0 v1.9 M761.16,545.0 v1.9 M764.75,545.0 v1.9 M768.34,545.0 v1.9 M771.93,545.0 v1.9 M775.52,545.0 v1.9 M779.11,545.0 v1.9 M782.70,545.0 v1.9" stroke="#222" stroke-width="0.9" fill="none"/>
<path d="M552.20,432.20 L556.60,432.20 L554.40,440.40Z" fill="#111"/>
<path d="M557.70,427.90 L562.10,427.90 L559.90,436.10Z" fill="#111"/>
<rect x="441.5" y="553.8" width="152.90" height="30.60" fill="#fff" stroke="#111" stroke-width="1"/>
<path d="M441.5,544.0 V553.8 M482.3,544.0 V548.8 L594.4,553.8" fill="none" stroke="#222" stroke-width="0.8"/>
<line x1="466.98" x2="466.98" y1="553.8" y2="584.4" stroke="#000" stroke-width="1.05" stroke-dasharray="2.6,1.8"/>
<line x1="492.47" x2="492.47" y1="553.8" y2="584.4" stroke="#000" stroke-width="1.05" stroke-dasharray="2.6,1.8"/>
<line x1="517.95" x2="517.95" y1="553.8" y2="584.4" stroke="#000" stroke-width="1.05" stroke-dasharray="2.6,1.8"/>
<line x1="543.43" x2="543.43" y1="553.8" y2="584.4" stroke="#000" stroke-width="1.05" stroke-dasharray="2.6,1.8"/>
<line x1="568.92" x2="568.92" y1="553.8" y2="584.4" stroke="#000" stroke-width="1.05" stroke-dasharray="2.6,1.8"/>
<text transform="translate(453.57,581.30) rotate(-90)" font-size="16" textLength="24.6" lengthAdjust="spacingAndGlyphs" fill="#FDB465" stroke="#FDB465" stroke-width="0.28">A&gt;C</text>
<text transform="translate(466.31,581.30) rotate(-90)" font-size="16" textLength="24.6" lengthAdjust="spacingAndGlyphs" fill="#E42A08" stroke="#E42A08" stroke-width="0.5">C&gt;A</text>
<text transform="translate(479.05,581.30) rotate(-90)" font-size="16" textLength="24.6" lengthAdjust="spacingAndGlyphs" fill="#0CE0F7" stroke="#0CE0F7" stroke-width="0.28">T&gt;A</text>
<text transform="translate(491.80,581.30) rotate(-90)" font-size="16" textLength="24.6" lengthAdjust="spacingAndGlyphs" fill="#0CE0F7" stroke="#0CE0F7" stroke-width="0.28">A&gt;T</text>
<text transform="translate(504.54,581.30) rotate(-90)" font-size="16" textLength="24.6" lengthAdjust="spacingAndGlyphs" fill="#E42A08" stroke="#E42A08" stroke-width="0.5">G&gt;T</text>
<text transform="translate(517.28,581.30) rotate(-90)" font-size="16" textLength="24.6" lengthAdjust="spacingAndGlyphs" fill="#FDB465" stroke="#FDB465" stroke-width="0.28">T&gt;G</text>
<text transform="translate(530.02,581.30) rotate(-90)" font-size="16" textLength="24.6" lengthAdjust="spacingAndGlyphs" fill="#1EAA12" stroke="#1EAA12" stroke-width="0.5">C&gt;G</text>
<text transform="translate(542.76,581.30) rotate(-90)" font-size="16" textLength="24.6" lengthAdjust="spacingAndGlyphs" fill="#1EAA12" stroke="#1EAA12" stroke-width="0.5">G&gt;C</text>
<text transform="translate(555.50,581.30) rotate(-90)" font-size="16" textLength="24.6" lengthAdjust="spacingAndGlyphs" fill="#FB7CDF" stroke="#FB7CDF" stroke-width="0.28">T&gt;C</text>
<text transform="translate(568.25,581.30) rotate(-90)" font-size="16" textLength="24.6" lengthAdjust="spacingAndGlyphs" fill="#0A6BF7" stroke="#0A6BF7" stroke-width="0.5">C&gt;T</text>
<text transform="translate(580.99,581.30) rotate(-90)" font-size="16" textLength="24.6" lengthAdjust="spacingAndGlyphs" fill="#0A6BF7" stroke="#0A6BF7" stroke-width="0.5">G&gt;A</text>
<text transform="translate(593.73,581.30) rotate(-90)" font-size="16" textLength="24.6" lengthAdjust="spacingAndGlyphs" fill="#FB7CDF" stroke="#FB7CDF" stroke-width="0.28">A&gt;G</text>
<rect x="699.4" y="553.8" width="74.90" height="30.60" fill="#fff" stroke="#111" stroke-width="1"/>
<path d="M699.4,544.0 V553.8 M717.0,544.0 V548.8 L774.3,553.8" fill="none" stroke="#222" stroke-width="0.8"/>
<line x1="724.37" x2="724.37" y1="553.8" y2="584.4" stroke="#000" stroke-width="1.05" stroke-dasharray="2.6,1.8"/>
<line x1="749.33" x2="749.33" y1="553.8" y2="584.4" stroke="#000" stroke-width="1.05" stroke-dasharray="2.6,1.8"/>
<text transform="translate(711.34,581.30) rotate(-90)" font-size="16" textLength="24.6" lengthAdjust="spacingAndGlyphs" fill="#E42A08" stroke="#E42A08" stroke-width="0.5">C&gt;A</text>
<text transform="translate(723.83,581.30) rotate(-90)" font-size="16" textLength="24.6" lengthAdjust="spacingAndGlyphs" fill="#0CE0F7" stroke="#0CE0F7" stroke-width="0.28">T&gt;A</text>
<text transform="translate(736.31,581.30) rotate(-90)" font-size="16" textLength="24.6" lengthAdjust="spacingAndGlyphs" fill="#FDB465" stroke="#FDB465" stroke-width="0.28">T&gt;G</text>
<text transform="translate(748.79,581.30) rotate(-90)" font-size="16" textLength="24.6" lengthAdjust="spacingAndGlyphs" fill="#1EAA12" stroke="#1EAA12" stroke-width="0.5">C&gt;G</text>
<text transform="translate(761.27,581.30) rotate(-90)" font-size="16" textLength="24.6" lengthAdjust="spacingAndGlyphs" fill="#FB7CDF" stroke="#FB7CDF" stroke-width="0.28">T&gt;C</text>
<text transform="translate(773.76,581.30) rotate(-90)" font-size="16" textLength="24.6" lengthAdjust="spacingAndGlyphs" fill="#0A6BF7" stroke="#0A6BF7" stroke-width="0.5">C&gt;T</text>
<text x="2.20" y="619.30" font-size="28.2" font-weight="bold" fill="#000" text-anchor="start" >e</text>
<text x="46.40" y="642.70" font-size="13.6" text-anchor="middle" fill="#222"><tspan font-style="italic">5′</tspan>-<tspan font-weight="bold" fill="#111">AAG</tspan>-<tspan font-style="italic">3′</tspan></text>
<text x="46.40" y="659.50" font-size="13.6" text-anchor="middle" fill="#222"><tspan font-style="italic">3′</tspan>-<tspan font-weight="bold" fill="#111">TTC</tspan>-<tspan font-style="italic">5′</tspan></text>
<text x="182.20" y="642.70" font-size="13.6" text-anchor="middle" fill="#222"><tspan font-style="italic">5′</tspan>-<tspan font-weight="bold" fill="#111">ATG</tspan>-<tspan font-style="italic">3′</tspan></text>
<text x="182.20" y="659.50" font-size="13.6" text-anchor="middle" fill="#222"><tspan font-style="italic">3′</tspan>-<tspan font-weight="bold" fill="#111">TAC</tspan>-<tspan font-style="italic">5′</tspan></text>
<text x="46.40" y="746.90" font-size="13.6" text-anchor="middle" fill="#222"><tspan font-style="italic">5′</tspan>-<tspan font-weight="bold" fill="#111">ACG</tspan>-<tspan font-style="italic">3′</tspan></text>
<text x="46.40" y="764.00" font-size="13.6" text-anchor="middle" fill="#222"><tspan font-style="italic">3′</tspan>-<tspan font-weight="bold" fill="#111">TGC</tspan>-<tspan font-style="italic">5′</tspan></text>
<text x="182.20" y="746.70" font-size="13.6" text-anchor="middle" fill="#222"><tspan font-style="italic">5′</tspan>-<tspan font-weight="bold" fill="#111">AGG</tspan>-<tspan font-style="italic">3′</tspan></text>
<text x="182.20" y="763.80" font-size="13.6" text-anchor="middle" fill="#222"><tspan font-style="italic">3′</tspan>-<tspan font-weight="bold" fill="#111">TCC</tspan>-<tspan font-style="italic">5′</tspan></text>
<text x="102.20" y="622.90" font-size="19.2" font-weight="normal" fill="#111" text-anchor="middle" >GOH</text>
<rect x="132.90" y="607.8" width="17.9" height="17.0" fill="#000"/>
<text x="141.90" y="622.60" font-size="17.2" font-weight="bold" fill="#fff" text-anchor="middle" >3</text>
<line x1="85.60" y1="649.80" x2="146.00" y2="649.80" stroke="#222" stroke-width="1.15" marker-start="url(#ah)" marker-end="url(#ah)"/>
<line x1="85.60" y1="746.80" x2="145.60" y2="746.80" stroke="#222" stroke-width="1.15" marker-start="url(#ah)" marker-end="url(#ah)"/>
<line x1="54.80" y1="668.50" x2="54.80" y2="727.90" stroke="#222" stroke-width="1.15" marker-start="url(#ah)" marker-end="url(#ah)"/>
<line x1="177.30" y1="668.50" x2="177.30" y2="727.90" stroke="#222" stroke-width="1.15" marker-start="url(#ah)" marker-end="url(#ah)"/>
<line x1="148.85" y1="664.95" x2="82.45" y2="731.35" stroke="#222" stroke-width="1.15" marker-start="url(#ah)" marker-end="url(#ah)"/>
<path d="M82.45,664.95 L109.80,692.3 Q111.00,693.5 113.00,693.5 L117.40,693.5 Q119.60,693.5 119.60,695.8 L119.60,700.2 Q119.60,702.0 120.90,703.4 L148.85,731.35" fill="none" stroke="#222" stroke-width="1.15" marker-start="url(#ah)" marker-end="url(#ah)"/>
<text x="84.30" y="642.90" font-size="14.4" font-weight="normal" fill="#0CE0F7" text-anchor="start" stroke="#0CE0F7" stroke-width="0.3">46</text>
<text x="146.50" y="642.90" font-size="14.4" font-weight="normal" fill="#0CE0F7" text-anchor="end" stroke="#0CE0F7" stroke-width="0.3">88</text>
<text x="83.40" y="764.60" font-size="14.4" font-weight="normal" fill="#1EAA12" text-anchor="start" stroke="#1EAA12" stroke-width="0.3">45</text>
<text x="146.20" y="764.60" font-size="14.4" font-weight="normal" fill="#1EAA12" text-anchor="end" stroke="#1EAA12" stroke-width="0.3">12</text>
<text transform="translate(46.40,667.40) rotate(-90)" font-size="14.2" text-anchor="end" fill="#E42A08" stroke="#E42A08" stroke-width="0.3">27</text>
<text transform="translate(46.40,729.40) rotate(-90)" font-size="14.2" text-anchor="start" fill="#FDB465" stroke="#FDB465" stroke-width="0.3">332</text>
<text transform="translate(195.20,667.00) rotate(-90)" font-size="14.2" text-anchor="end" fill="#E42A08" stroke="#E42A08" stroke-width="0.3">186</text>
<text transform="translate(195.20,729.40) rotate(-90)" font-size="14.2" text-anchor="start" fill="#FDB465" stroke="#FDB465" stroke-width="0.3">30</text>
<text transform="translate(78.78,683.12) rotate(45)" font-size="14.2" text-anchor="middle" fill="#0A6BF7" stroke="#0A6BF7" stroke-width="0.3">346</text>
<text transform="translate(154.42,684.32) rotate(-45)" font-size="14.2" text-anchor="middle" fill="#0A6BF7" stroke="#0A6BF7" stroke-width="0.3">229</text>
<text transform="translate(82.42,723.72) rotate(-45)" font-size="14.2" text-anchor="middle" fill="#FB7CDF" stroke="#FB7CDF" stroke-width="0.3">95</text>
<text transform="translate(146.58,720.02) rotate(45)" font-size="14.2" text-anchor="middle" fill="#FB7CDF" stroke="#FB7CDF" stroke-width="0.3">218</text>
<text x="255.40" y="642.70" font-size="13.6" text-anchor="middle" fill="#222"><tspan font-style="italic">5′</tspan>-<tspan font-weight="bold" fill="#111">AAG</tspan>-<tspan font-style="italic">3′</tspan></text>
<text x="255.40" y="659.50" font-size="13.6" text-anchor="middle" fill="#222"><tspan font-style="italic">3′</tspan>-<tspan font-weight="bold" fill="#111">TTC</tspan>-<tspan font-style="italic">5′</tspan></text>
<text x="391.20" y="642.70" font-size="13.6" text-anchor="middle" fill="#222"><tspan font-style="italic">5′</tspan>-<tspan font-weight="bold" fill="#111">ATG</tspan>-<tspan font-style="italic">3′</tspan></text>
<text x="391.20" y="659.50" font-size="13.6" text-anchor="middle" fill="#222"><tspan font-style="italic">3′</tspan>-<tspan font-weight="bold" fill="#111">TAC</tspan>-<tspan font-style="italic">5′</tspan></text>
<text x="255.40" y="746.90" font-size="13.6" text-anchor="middle" fill="#222"><tspan font-style="italic">5′</tspan>-<tspan font-weight="bold" fill="#111">ACG</tspan>-<tspan font-style="italic">3′</tspan></text>
<text x="255.40" y="764.00" font-size="13.6" text-anchor="middle" fill="#222"><tspan font-style="italic">3′</tspan>-<tspan font-weight="bold" fill="#111">TGC</tspan>-<tspan font-style="italic">5′</tspan></text>
<text x="391.20" y="746.70" font-size="13.6" text-anchor="middle" fill="#222"><tspan font-style="italic">5′</tspan>-<tspan font-weight="bold" fill="#111">AGG</tspan>-<tspan font-style="italic">3′</tspan></text>
<text x="391.20" y="763.80" font-size="13.6" text-anchor="middle" fill="#222"><tspan font-style="italic">3′</tspan>-<tspan font-weight="bold" fill="#111">TCC</tspan>-<tspan font-style="italic">5′</tspan></text>
<text x="311.50" y="622.90" font-size="19.2" font-weight="normal" fill="#111" text-anchor="middle" >LOH</text>
<rect x="339.10" y="607.8" width="17.9" height="17.0" fill="#000"/>
<text x="348.10" y="622.60" font-size="17.2" font-weight="bold" fill="#fff" text-anchor="middle" >3</text>
<line x1="294.60" y1="649.80" x2="355.00" y2="649.80" stroke="#222" stroke-width="1.15" marker-start="url(#ah)" marker-end="url(#ah)"/>
<line x1="294.60" y1="746.80" x2="354.60" y2="746.80" stroke="#222" stroke-width="1.15" marker-start="url(#ah)" marker-end="url(#ah)"/>
<line x1="263.80" y1="668.50" x2="263.80" y2="727.90" stroke="#222" stroke-width="1.15" marker-start="url(#ah)" marker-end="url(#ah)"/>
<line x1="386.30" y1="668.50" x2="386.30" y2="727.90" stroke="#222" stroke-width="1.15" marker-start="url(#ah)" marker-end="url(#ah)"/>
<line x1="357.85" y1="664.95" x2="291.45" y2="731.35" stroke="#222" stroke-width="1.15" marker-start="url(#ah)" marker-end="url(#ah)"/>
<path d="M291.45,664.95 L318.80,692.3 Q320.00,693.5 322.00,693.5 L326.40,693.5 Q328.60,693.5 328.60,695.8 L328.60,700.2 Q328.60,702.0 329.90,703.4 L357.85,731.35" fill="none" stroke="#222" stroke-width="1.15" marker-start="url(#ah)" marker-end="url(#ah)"/>
<text x="294.00" y="642.90" font-size="14.4" font-weight="normal" fill="#0CE0F7" text-anchor="start" stroke="#0CE0F7" stroke-width="0.3">192</text>
<text x="355.50" y="642.90" font-size="14.4" font-weight="normal" fill="#0CE0F7" text-anchor="end" stroke="#0CE0F7" stroke-width="0.3">183</text>
<text x="294.00" y="764.60" font-size="14.4" font-weight="normal" fill="#1EAA12" text-anchor="start" stroke="#1EAA12" stroke-width="0.3">174</text>
<text x="355.20" y="764.60" font-size="14.4" font-weight="normal" fill="#1EAA12" text-anchor="end" stroke="#1EAA12" stroke-width="0.3">178</text>
<text transform="translate(255.40,667.40) rotate(-90)" font-size="14.2" text-anchor="end" fill="#E42A08" stroke="#E42A08" stroke-width="0.3">150</text>
<text transform="translate(255.40,729.40) rotate(-90)" font-size="14.2" text-anchor="start" fill="#FDB465" stroke="#FDB465" stroke-width="0.3">141</text>
<text transform="translate(404.20,667.00) rotate(-90)" font-size="14.2" text-anchor="end" fill="#E42A08" stroke="#E42A08" stroke-width="0.3">204</text>
<text transform="translate(404.20,729.40) rotate(-90)" font-size="14.2" text-anchor="start" fill="#FDB465" stroke="#FDB465" stroke-width="0.3">200</text>
<text transform="translate(288.08,683.22) rotate(45)" font-size="14.2" text-anchor="middle" fill="#0A6BF7" stroke="#0A6BF7" stroke-width="0.3">713</text>
<text transform="translate(360.72,685.42) rotate(-45)" font-size="14.2" text-anchor="middle" fill="#0A6BF7" stroke="#0A6BF7" stroke-width="0.3">1617</text>
<text transform="translate(296.42,715.12) rotate(-45)" font-size="14.2" text-anchor="middle" fill="#FB7CDF" stroke="#FB7CDF" stroke-width="0.3">1558</text>
<text transform="translate(354.08,718.82) rotate(45)" font-size="14.2" text-anchor="middle" fill="#FB7CDF" stroke="#FB7CDF" stroke-width="0.3">704</text>
<text x="426.60" y="619.00" font-size="28.2" font-weight="bold" fill="#000" text-anchor="start" >f</text>
<rect x="486.8" y="608.2" width="297.40" height="119.30" fill="#fff"/>
<line x1="486.8" x2="784.2" y1="613.3" y2="613.3" stroke="#e2e2ec" stroke-width="1.0"/>
<line x1="486.8" x2="784.2" y1="640.4" y2="640.4" stroke="#e2e2ec" stroke-width="0.7"/>
<line x1="486.8" x2="784.2" y1="667.6" y2="667.6" stroke="#e2e2ec" stroke-width="1.0"/>
<line x1="486.8" x2="784.2" y1="694.7" y2="694.7" stroke="#e2e2ec" stroke-width="0.7"/>
<line x1="486.8" x2="784.2" y1="721.9" y2="721.9" stroke="#e2e2ec" stroke-width="1.0"/>
<line x1="495.7" x2="495.7" y1="608.2" y2="727.5" stroke="#e2e2ec" stroke-width="1"/>
<line x1="595.5" x2="595.5" y1="608.2" y2="727.5" stroke="#e2e2ec" stroke-width="1"/>
<line x1="695.3" x2="695.3" y1="608.2" y2="727.5" stroke="#e2e2ec" stroke-width="1"/>
<rect x="500.30" y="691.49" width="10.12" height="30.41" fill="#2BC6EA"/>
<rect x="510.32" y="702.35" width="10.12" height="19.55" fill="#2BC6EA"/>
<rect x="520.34" y="713.21" width="10.12" height="8.69" fill="#2BC6EA"/>
<rect x="530.36" y="704.52" width="10.12" height="17.38" fill="#2BC6EA"/>
<rect x="540.38" y="715.38" width="10.12" height="6.52" fill="#2BC6EA"/>
<rect x="550.40" y="719.73" width="10.12" height="2.17" fill="#2BC6EA"/>
<rect x="570.44" y="719.73" width="10.12" height="2.17" fill="#2BC6EA"/>
<rect x="600.50" y="719.73" width="10.12" height="2.17" fill="#2BC6EA"/>
<rect x="610.52" y="719.73" width="10.12" height="2.17" fill="#2BC6EA"/>
<rect x="630.56" y="719.73" width="10.12" height="2.17" fill="#2BC6EA"/>
<rect x="760.82" y="719.73" width="10.12" height="2.17" fill="#2BC6EA"/>
<clipPath id="hc1"><rect x="500.80" y="626.33" width="9.32" height="95.57"/></clipPath>
<path d="M500.30,610.75 L510.62,623.13 M500.30,615.15 L510.62,627.53 M500.30,619.55 L510.62,631.93 M500.30,623.95 L510.62,636.33 M500.30,628.35 L510.62,640.73 M500.30,632.75 L510.62,645.13 M500.30,637.15 L510.62,649.53 M500.30,641.55 L510.62,653.93 M500.30,645.95 L510.62,658.33 M500.30,650.35 L510.62,662.73 M500.30,654.75 L510.62,667.13 M500.30,659.15 L510.62,671.53 M500.30,663.55 L510.62,675.93 M500.30,667.95 L510.62,680.33 M500.30,672.35 L510.62,684.73 M500.30,676.75 L510.62,689.13 M500.30,681.15 L510.62,693.53 M500.30,685.55 L510.62,697.93 M500.30,689.95 L510.62,702.33 M500.30,694.35 L510.62,706.73 M500.30,698.75 L510.62,711.13 M500.30,703.15 L510.62,715.53 M500.30,707.55 L510.62,719.93 M500.30,711.95 L510.62,724.33 M500.30,716.35 L510.62,728.73 M500.30,720.75 L510.62,733.13 M500.30,725.15 L510.62,737.53" stroke="#F01030" stroke-width="1.25" fill="none" clip-path="url(#hc1)"/>
<rect x="500.80" y="626.33" width="9.32" height="95.57" fill="none" stroke="#F01030" stroke-width="1.1"/>
<rect x="486.8" y="608.2" width="297.40" height="119.30" fill="none" stroke="#3a3a3a" stroke-width="1.5"/>
<line x1="481.6" x2="486.8" y1="613.3" y2="613.3" stroke="#333" stroke-width="1"/>
<text x="475.00" y="618.30" font-size="13.8" font-weight="normal" fill="#1a1a1a" text-anchor="end" >50</text>
<line x1="481.6" x2="486.8" y1="667.6" y2="667.6" stroke="#333" stroke-width="1"/>
<text x="475.00" y="672.60" font-size="13.8" font-weight="normal" fill="#1a1a1a" text-anchor="end" >25</text>
<line x1="481.6" x2="486.8" y1="721.9" y2="721.9" stroke="#333" stroke-width="1"/>
<text x="475.00" y="726.90" font-size="13.8" font-weight="normal" fill="#1a1a1a" text-anchor="end" >0</text>
<line x1="481.6" x2="486.8" y1="640.4" y2="640.4" stroke="#333" stroke-width="1"/>
<line x1="481.6" x2="486.8" y1="694.7" y2="694.7" stroke="#333" stroke-width="1"/>
<path d="M500.30,727.5 v5.2 M510.32,727.5 v5.2 M520.34,727.5 v5.2 M530.36,727.5 v5.2 M540.38,727.5 v5.2 M550.40,727.5 v5.2 M560.42,727.5 v5.2 M570.44,727.5 v5.2 M580.46,727.5 v5.2 M590.48,727.5 v5.2 M600.50,727.5 v5.2 M610.52,727.5 v5.2 M620.54,727.5 v5.2 M630.56,727.5 v5.2 M640.58,727.5 v5.2 M650.60,727.5 v5.2 M660.62,727.5 v5.2 M670.64,727.5 v5.2 M680.66,727.5 v5.2 M690.68,727.5 v5.2 M700.70,727.5 v5.2 M710.72,727.5 v5.2 M720.74,727.5 v5.2 M730.76,727.5 v5.2 M740.78,727.5 v5.2 M750.80,727.5 v5.2 M760.82,727.5 v5.2 M770.84,727.5 v5.2" stroke="#333" stroke-width="1" fill="none"/>
<text x="500.30" y="748.00" font-size="13.8" font-weight="normal" fill="#1a1a1a" text-anchor="middle" >1</text>
<text x="600.80" y="748.00" font-size="13.8" font-weight="normal" fill="#1a1a1a" text-anchor="middle" >10</text>
<text x="700.20" y="748.00" font-size="13.8" font-weight="normal" fill="#1a1a1a" text-anchor="middle" >20</text>
<text x="760.60" y="748.00" font-size="13.8" font-weight="normal" fill="#1a1a1a" text-anchor="middle" >27</text>
<text x="635.60" y="764.50" font-size="14.9" font-weight="bold" fill="#111" text-anchor="middle" >Opposing-Pair Ratio</text>
<text transform="translate(450.8,716.0) rotate(-90)" font-size="16.6" font-weight="bold" textLength="80.2" lengthAdjust="spacingAndGlyphs" fill="#111">No. of Pairs</text>
<rect x="605.9" y="625.6" width="28.4" height="11" fill="#2BC6EA"/>
<clipPath id="hc2"><rect x="606.20" y="646.50" width="28.20" height="11.00"/></clipPath>
<path d="M605.70,608.26 L634.90,643.30 M605.70,612.66 L634.90,647.70 M605.70,617.06 L634.90,652.10 M605.70,621.46 L634.90,656.50 M605.70,625.86 L634.90,660.90 M605.70,630.26 L634.90,665.30 M605.70,634.66 L634.90,669.70 M605.70,639.06 L634.90,674.10 M605.70,643.46 L634.90,678.50 M605.70,647.86 L634.90,682.90 M605.70,652.26 L634.90,687.30 M605.70,656.66 L634.90,691.70 M605.70,661.06 L634.90,696.10" stroke="#F01030" stroke-width="1.25" fill="none" clip-path="url(#hc2)"/>
<rect x="606.20" y="646.50" width="28.20" height="11.00" fill="none" stroke="#F01030" stroke-width="1.0"/>
<text x="644.20" y="636.60" font-size="17.2" font-weight="bold" fill="#111" text-anchor="start" letter-spacing="0.6">GOH</text>
<text x="644.20" y="657.50" font-size="17.2" font-weight="bold" fill="#111" text-anchor="start" letter-spacing="1.6">LOH</text>
</svg>
</body></html>
